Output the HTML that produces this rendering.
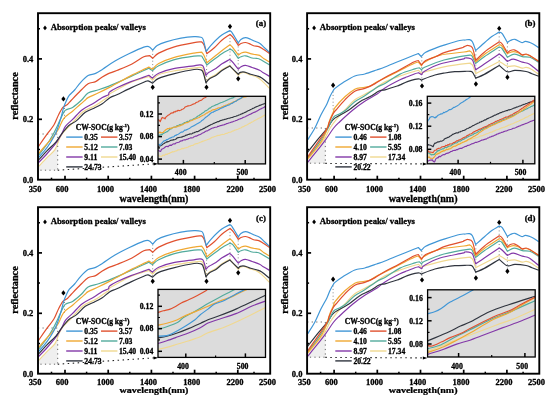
<!DOCTYPE html>
<html><head><meta charset="utf-8"><style>
html,body{margin:0;padding:0;background:#fff;width:550px;height:403px;overflow:hidden;}
svg{display:block;font-family:"Liberation Serif",serif;filter:blur(0.3px);}
text{stroke:#000;stroke-width:0.3px;}
</style></head><body>
<svg width="550" height="403" viewBox="0 0 550 403">
<rect width="550" height="403" fill="#fff"/>
<g transform="translate(0,0)">
<path d="M38.0,170.2 L38.00,166.90 L38.51,166.58 L39.01,166.04 L39.52,165.51 L40.02,164.98 L40.53,164.45 L41.03,163.91 L41.54,163.38 L42.04,162.85 L42.55,162.31 L43.05,161.78 L43.56,161.25 L44.06,160.71 L44.57,160.18 L45.07,159.65 L45.58,159.11 L46.08,158.58 L46.59,158.05 L47.09,157.51 L47.60,157.00 L48.10,156.50 L48.61,155.99 L49.11,155.49 L49.62,154.98 L50.12,154.48 L50.63,153.97 L51.13,153.47 L51.64,152.96 L52.14,152.46 L52.65,151.95 L53.15,151.45 L53.66,150.94 L54.16,150.44 L54.67,149.93 L55.17,149.17 L55.68,147.91 L56.18,146.65 L56.69,145.39 L57.19,144.14 L57.70,142.88 L57.7,170.2 Z" fill="#efefef"/>
<path d="M38,134 L57.7,134 L57.7,170.2 L38,170.2" fill="none" stroke="#666" stroke-width="1" stroke-dasharray="1.2,3.3"/>
<line x1="57.7" y1="170.2" x2="154" y2="163.9" stroke="#222" stroke-width="1.1" stroke-dasharray="1.5,3.5"/>
<path d="M158.20,163.70 L153.71,165.49 L153.51,162.50 Z" fill="#000"/>
<line x1="64.50" y1="108.00" x2="64.50" y2="119.00" stroke="#888" stroke-width="1" stroke-dasharray="1,2.4"/>
<line x1="152.70" y1="50.50" x2="152.70" y2="84.00" stroke="#888" stroke-width="1" stroke-dasharray="1,2.4"/>
<line x1="206.60" y1="52.00" x2="206.60" y2="84.00" stroke="#888" stroke-width="1" stroke-dasharray="1,2.4"/>
<line x1="230.00" y1="31.00" x2="230.00" y2="66.50" stroke="#888" stroke-width="1" stroke-dasharray="1,2.4"/>
<line x1="238.20" y1="43.00" x2="238.20" y2="76.00" stroke="#888" stroke-width="1" stroke-dasharray="1,2.4"/>
<path d="M38.20,166.90 C39.70,165.32 44.40,160.28 47.20,157.40 C50.00,154.52 52.95,152.77 55.00,149.60 C57.05,146.43 58.02,141.38 59.50,138.40 C60.98,135.42 62.05,133.93 63.90,131.70 C65.75,129.47 68.77,126.93 70.60,125.00 C72.43,123.07 72.70,122.40 74.90,120.10 C77.10,117.80 80.62,113.50 83.80,111.20 C86.98,108.90 90.98,107.97 94.00,106.30 C97.02,104.63 99.75,102.62 101.90,101.20 C104.05,99.78 105.77,98.57 106.90,97.80 C108.03,97.03 108.25,97.23 108.70,96.60 C109.15,95.97 108.25,95.13 109.60,94.00 C110.95,92.87 113.23,91.75 116.80,89.80 C120.37,87.85 126.50,84.27 131.00,82.30 C135.50,80.33 140.82,78.98 143.80,78.00 C146.78,77.02 147.20,76.93 148.90,76.40 C150.07,77.63 151.23,78.87 152.40,80.10 C154.50,78.30 155.17,76.22 158.70,74.70 C162.23,73.18 167.72,72.12 173.60,71.00 C179.48,69.88 189.43,68.60 194.00,68.00 C198.57,67.40 199.50,67.23 201.00,67.40 C202.50,67.57 202.40,67.73 203.00,69.00 C203.60,70.27 204.12,72.78 204.60,75.00 C205.08,77.22 205.47,79.87 205.90,82.30 C206.93,81.03 207.33,79.82 209.00,78.50 C210.67,77.18 213.73,75.85 215.90,74.40 C218.07,72.95 219.70,71.30 222.00,69.80 C224.30,68.30 227.13,66.87 229.70,65.40 C232.57,68.73 235.43,72.07 238.30,75.40 C239.03,74.67 239.43,73.67 240.50,73.20 C241.57,72.73 243.02,72.30 244.70,72.60 C246.38,72.90 248.62,74.28 250.60,75.00 C252.58,75.72 254.73,75.97 256.60,76.90 C258.47,77.83 259.65,78.68 261.80,80.60 C263.95,82.52 268.22,87.10 269.50,88.40" fill="none" stroke="#f0d890" stroke-width="1.2" stroke-linejoin="round"/>
<path d="M38.20,163.00 C39.70,161.42 44.22,156.85 47.20,153.50 C50.18,150.15 53.68,146.17 56.10,142.90 C58.52,139.63 60.12,136.70 61.70,133.90 C63.28,131.10 63.78,128.52 65.60,126.10 C67.42,123.68 69.82,122.13 72.60,119.40 C75.38,116.67 78.73,112.43 82.30,109.70 C85.87,106.97 90.73,105.00 94.00,103.00 C97.27,101.00 99.67,98.98 101.90,97.70 C104.13,96.42 106.28,95.83 107.40,95.30 C108.52,94.77 108.23,95.05 108.60,94.50 C108.97,93.95 108.23,93.12 109.60,92.00 C110.97,90.88 113.23,89.53 116.80,87.80 C120.37,86.07 126.50,83.38 131.00,81.60 C135.50,79.82 140.82,78.15 143.80,77.10 C146.78,76.05 147.20,75.90 148.90,75.30 C150.07,76.23 151.23,77.17 152.40,78.10 C154.50,76.47 155.17,74.77 158.70,73.20 C162.23,71.63 167.72,69.93 173.60,68.70 C179.48,67.47 189.60,66.43 194.00,65.80 C198.40,65.17 198.52,64.88 200.00,64.90 C201.48,64.92 202.15,65.05 202.90,65.90 C203.65,66.75 204.00,68.42 204.50,70.00 C205.00,71.58 205.43,73.60 205.90,75.40 C206.93,74.37 207.33,73.47 209.00,72.30 C210.67,71.13 213.73,69.82 215.90,68.40 C218.07,66.98 219.70,65.28 222.00,63.80 C224.30,62.32 227.13,60.93 229.70,59.50 C230.53,60.23 230.77,60.08 232.20,61.70 C233.63,63.32 236.27,66.70 238.30,69.20 C239.20,68.40 239.82,67.45 241.00,66.80 C242.18,66.15 243.55,65.18 245.40,65.30 C247.25,65.42 249.73,66.68 252.10,67.50 C254.47,68.32 257.73,69.32 259.60,70.20 C261.47,71.08 261.65,71.78 263.30,72.80 C264.95,73.82 268.47,75.72 269.50,76.30" fill="none" stroke="#8338a8" stroke-width="1.2" stroke-linejoin="round"/>
<path d="M38.20,160.50 C39.70,158.87 44.22,153.82 47.20,150.70 C50.18,147.58 53.68,144.60 56.10,141.80 C58.52,139.00 60.02,136.13 61.70,133.90 C63.38,131.67 64.90,129.88 66.20,128.40 C67.50,126.92 67.82,126.25 69.50,125.00 C71.18,123.75 73.67,123.02 76.30,120.90 C78.93,118.78 82.35,114.42 85.30,112.30 C88.25,110.18 91.23,109.58 94.00,108.20 C96.77,106.82 99.25,105.75 101.90,104.00 C104.55,102.25 107.42,99.23 109.90,97.70 C112.38,96.17 113.28,96.43 116.80,94.80 C120.32,93.17 126.50,89.98 131.00,87.90 C135.50,85.82 140.95,83.48 143.80,82.30 C146.65,81.12 146.67,80.65 148.10,80.80 C149.53,80.95 150.97,82.40 152.40,83.20 C154.50,81.60 155.17,79.95 158.70,78.40 C162.23,76.85 167.72,75.38 173.60,73.90 C179.48,72.42 189.43,70.17 194.00,69.50 C198.57,68.83 199.52,69.50 201.00,69.90 C202.48,70.30 202.32,70.72 202.90,71.90 C203.48,73.08 204.00,75.18 204.50,77.00 C205.00,78.82 205.43,80.87 205.90,82.80 C206.93,81.60 207.33,80.43 209.00,79.20 C210.67,77.97 213.73,76.83 215.90,75.40 C218.07,73.97 219.70,72.18 222.00,70.60 C224.30,69.02 227.13,67.47 229.70,65.90 C232.57,68.70 235.43,71.50 238.30,74.30 C238.93,73.67 239.13,72.77 240.20,72.40 C241.27,72.03 242.97,71.78 244.70,72.10 C246.43,72.42 248.62,73.68 250.60,74.30 C252.58,74.92 254.73,75.18 256.60,75.80 C258.47,76.42 259.65,76.58 261.80,78.00 C263.95,79.42 268.22,83.25 269.50,84.30" fill="none" stroke="#30353f" stroke-width="1.2" stroke-linejoin="round"/>
<path d="M38.20,155.70 C39.70,153.75 44.77,147.45 47.20,144.00 C49.63,140.55 51.03,138.17 52.80,135.00 C54.57,131.83 56.37,127.98 57.80,125.00 C59.23,122.02 60.17,119.53 61.40,117.10 C62.63,114.67 63.33,112.02 65.20,110.40 C67.07,108.78 69.87,109.13 72.60,107.40 C75.33,105.67 79.02,102.40 81.60,100.00 C84.18,97.60 85.27,94.70 88.10,93.00 C90.93,91.30 95.12,90.95 98.60,89.80 C102.08,88.65 106.10,87.22 109.00,86.10 C111.90,84.98 112.33,84.72 116.00,83.10 C119.67,81.48 126.37,78.50 131.00,76.40 C135.63,74.30 140.82,71.87 143.80,70.50 C146.78,69.13 147.20,68.97 148.90,68.20 C150.07,69.00 151.23,69.80 152.40,70.60 C154.50,69.00 155.17,67.60 158.70,65.80 C162.23,64.00 167.72,61.42 173.60,59.80 C179.48,58.18 189.32,56.73 194.00,56.10 C198.68,55.47 199.13,56.03 201.70,56.00 C203.43,58.97 205.17,61.93 206.90,64.90 C211.87,61.17 217.95,56.30 221.80,53.70 C225.65,51.10 227.27,50.77 230.00,49.30 C231.00,49.80 231.62,49.28 233.00,50.80 C234.38,52.32 236.53,55.87 238.30,58.40 C239.20,57.87 239.82,57.23 241.00,56.80 C242.18,56.37 243.55,55.60 245.40,55.80 C247.25,56.00 250.23,57.57 252.10,58.00 C253.97,58.43 255.23,58.15 256.60,58.40 C257.97,58.65 258.15,58.42 260.30,59.50 C262.45,60.58 267.97,64.00 269.50,64.90" fill="none" stroke="#52ab9c" stroke-width="1.2" stroke-linejoin="round"/>
<path d="M38.20,153.80 C39.32,152.53 42.47,148.95 44.90,146.20 C47.33,143.45 50.57,140.08 52.80,137.30 C55.03,134.52 56.48,132.62 58.30,129.50 C60.12,126.38 61.32,121.65 63.70,118.60 C66.08,115.55 69.87,113.55 72.60,111.20 C75.33,108.85 77.98,106.37 80.10,104.50 C82.22,102.63 83.97,101.15 85.30,100.00 C86.63,98.85 85.88,98.80 88.10,97.60 C90.32,96.40 95.12,94.47 98.60,92.80 C102.08,91.13 106.10,89.10 109.00,87.60 C111.90,86.10 112.33,85.80 116.00,83.80 C119.67,81.80 126.37,78.00 131.00,75.60 C135.63,73.20 140.82,70.82 143.80,69.40 C146.78,67.98 147.20,67.87 148.90,67.10 C150.07,67.80 151.23,68.50 152.40,69.20 C154.50,67.30 155.17,65.43 158.70,63.50 C162.23,61.57 167.72,59.33 173.60,57.60 C179.48,55.87 189.32,54.00 194.00,53.10 C198.68,52.20 199.13,52.50 201.70,52.20 C202.43,53.20 203.03,53.45 203.90,55.20 C204.77,56.95 205.90,60.20 206.90,62.70 C211.87,58.73 217.95,53.78 221.80,50.80 C225.65,47.82 227.27,46.80 230.00,44.80 C231.00,45.80 231.62,46.08 233.00,47.80 C234.38,49.52 236.53,52.67 238.30,55.10 C239.20,54.47 239.82,53.70 241.00,53.20 C242.18,52.70 243.67,51.98 245.40,52.10 C247.13,52.22 249.67,53.47 251.40,53.90 C253.13,54.33 254.43,54.45 255.80,54.70 C257.17,54.95 258.23,54.72 259.60,55.40 C260.97,56.08 262.35,57.70 264.00,58.80 C265.65,59.90 268.58,61.47 269.50,62.00" fill="none" stroke="#f0a832" stroke-width="1.2" stroke-linejoin="round"/>
<path d="M38.20,146.80 C39.70,144.65 44.58,137.53 47.20,133.90 C49.82,130.27 52.02,128.17 53.90,125.00 C55.78,121.83 57.00,117.83 58.50,114.90 C60.00,111.97 61.42,109.13 62.90,107.40 C64.38,105.67 65.97,105.73 67.40,104.50 C68.83,103.27 69.28,102.33 71.50,100.00 C73.72,97.67 77.93,93.20 80.70,90.50 C83.47,87.80 85.62,85.28 88.10,83.80 C90.58,82.32 93.30,82.70 95.60,81.60 C97.90,80.50 99.85,78.48 101.90,77.20 C103.95,75.92 105.42,75.02 107.90,73.90 C110.38,72.78 112.78,72.15 116.80,70.50 C120.82,68.85 127.50,66.28 132.00,64.00 C136.50,61.72 140.83,58.20 143.80,56.80 C146.77,55.40 147.80,56.00 149.80,55.60 C150.77,56.50 151.73,57.40 152.70,58.30 C154.70,56.57 155.22,54.97 158.70,53.10 C162.18,51.23 167.72,48.83 173.60,47.10 C179.48,45.37 189.32,43.58 194.00,42.70 C198.68,41.82 199.13,42.10 201.70,41.80 C202.43,42.80 203.03,42.82 203.90,44.80 C204.77,46.78 205.90,50.73 206.90,53.70 C209.37,51.73 211.82,50.03 214.30,47.80 C216.78,45.57 219.18,42.53 221.80,40.30 C224.42,38.07 227.27,36.37 230.00,34.40 C231.00,35.37 231.62,35.48 233.00,37.30 C234.38,39.12 236.53,42.63 238.30,45.30 C239.20,44.70 239.82,43.97 241.00,43.50 C242.18,43.03 244.05,42.48 245.40,42.50 C246.75,42.52 247.73,43.07 249.10,43.60 C250.47,44.13 251.98,45.20 253.60,45.70 C255.22,46.20 257.18,46.02 258.80,46.60 C260.42,47.18 261.52,48.05 263.30,49.20 C265.08,50.35 268.47,52.78 269.50,53.50" fill="none" stroke="#e0502e" stroke-width="1.2" stroke-linejoin="round"/>
<path d="M38.20,158.00 C39.70,156.22 44.58,150.85 47.20,147.30 C49.82,143.75 52.23,139.67 53.90,136.70 C55.57,133.73 56.07,132.52 57.20,129.50 C58.33,126.48 59.62,122.28 60.70,118.60 C61.78,114.92 62.70,110.50 63.70,107.40 C64.70,104.30 65.75,102.03 66.70,100.00 C67.65,97.97 68.08,96.87 69.40,95.20 C70.72,93.53 72.72,92.15 74.60,90.00 C76.48,87.85 78.45,84.70 80.70,82.30 C82.95,79.90 85.62,77.08 88.10,75.60 C90.58,74.12 93.12,74.52 95.60,73.40 C98.08,72.28 99.77,70.97 103.00,68.90 C106.23,66.83 110.68,63.52 115.00,61.00 C119.32,58.48 124.10,56.12 128.90,53.80 C133.70,51.48 140.45,48.28 143.80,47.10 C147.15,45.92 147.52,46.20 149.00,46.70 C150.48,47.20 151.47,48.97 152.70,50.10 C154.20,48.60 154.97,46.97 157.20,45.60 C159.43,44.23 162.13,43.13 166.10,41.90 C170.07,40.67 176.35,39.07 181.00,38.20 C185.65,37.33 190.68,36.85 194.00,36.70 C197.32,36.55 199.37,36.82 200.90,37.30 C202.43,37.78 202.32,37.23 203.20,39.60 C204.08,41.97 205.20,47.53 206.20,51.50 C207.93,49.27 208.80,47.53 211.40,44.80 C214.00,42.07 218.70,37.47 221.80,35.10 C224.90,32.73 227.27,32.10 230.00,30.60 C230.73,31.37 230.82,30.85 232.20,32.90 C233.58,34.95 236.27,39.57 238.30,42.90 C239.17,41.77 239.72,40.37 240.90,39.50 C242.08,38.63 243.78,37.75 245.40,37.70 C247.02,37.65 249.12,38.65 250.60,39.20 C252.08,39.75 252.80,40.33 254.30,41.00 C255.80,41.67 258.10,42.27 259.60,43.20 C261.10,44.13 261.65,45.07 263.30,46.60 C264.95,48.13 268.47,51.43 269.50,52.40" fill="none" stroke="#4096d6" stroke-width="1.2" stroke-linejoin="round"/>
<path d="M63.40,96.20 L65.50,98.90 L63.40,101.60 L61.30,98.90 Z" fill="#000"/>
<path d="M152.70,84.50 L154.80,87.20 L152.70,89.90 L150.60,87.20 Z" fill="#000"/>
<path d="M206.50,84.60 L208.60,87.30 L206.50,90.00 L204.40,87.30 Z" fill="#000"/>
<path d="M230.00,23.80 L232.10,26.50 L230.00,29.20 L227.90,26.50 Z" fill="#000"/>
<path d="M238.20,76.10 L240.30,78.80 L238.20,81.50 L236.10,78.80 Z" fill="#000"/>
<text x="75.70" y="129.9" font-family="Liberation Serif" font-weight="bold" font-size="7.6" fill="#000">CW-SOC(g kg<tspan dy="-2.6" font-size="5">-1</tspan><tspan dy="2.6">)</tspan></text>
<line x1="66.20" y1="137.1" x2="82.60" y2="137.1" stroke="#4096d6" stroke-width="1.4"/>
<text x="84.30" y="139.70" font-family="Liberation Serif" font-weight="bold" font-size="7.7" fill="#000">0.35</text>
<line x1="101.00" y1="137.1" x2="117.40" y2="137.1" stroke="#e0502e" stroke-width="1.4"/>
<text x="118.90" y="139.70" font-family="Liberation Serif" font-weight="bold" font-size="7.7" fill="#000">3.57</text>
<line x1="66.20" y1="147.0" x2="82.60" y2="147.0" stroke="#f0a832" stroke-width="1.4"/>
<text x="84.30" y="149.60" font-family="Liberation Serif" font-weight="bold" font-size="7.7" fill="#000">5.12</text>
<line x1="101.00" y1="147.0" x2="117.40" y2="147.0" stroke="#52ab9c" stroke-width="1.4"/>
<text x="118.90" y="149.60" font-family="Liberation Serif" font-weight="bold" font-size="7.7" fill="#000">7.03</text>
<line x1="66.20" y1="157.0" x2="82.60" y2="157.0" stroke="#8338a8" stroke-width="1.4"/>
<text x="84.30" y="159.60" font-family="Liberation Serif" font-weight="bold" font-size="7.7" fill="#000">9.11</text>
<line x1="101.00" y1="157.0" x2="117.40" y2="157.0" stroke="#f0d890" stroke-width="1.4"/>
<text x="118.90" y="159.60" font-family="Liberation Serif" font-weight="bold" font-size="7.7" fill="#000">15.40</text>
<line x1="66.20" y1="166.9" x2="82.60" y2="166.9" stroke="#30353f" stroke-width="1.4"/>
<text x="84.30" y="169.50" font-family="Liberation Serif" font-weight="bold" font-size="7.7" fill="#000">24.73</text>
<clipPath id="ca0"><rect x="158.0" y="96.3" width="107.50" height="67.60"/></clipPath>
<rect x="158.0" y="96.3" width="107.50" height="67.60" fill="#dcdcdc"/>
<g clip-path="url(#ca0)"><path d="M158.30,154.85 L158.84,155.72 L159.72,156.08 L161.30,156.43 L161.95,156.29 L162.65,155.36 L163.43,155.01 L164.26,155.64 L165.16,154.56 L166.12,154.12 L167.14,154.52 L168.23,153.48 L169.38,153.41 L170.60,152.58 L171.41,152.46 L172.26,151.67 L173.15,151.86 L174.08,151.78 L175.04,151.12 L176.02,151.01 L177.03,150.61 L178.06,149.73 L179.09,150.02 L180.14,149.53 L181.19,148.94 L182.23,148.38 L183.27,148.73 L184.30,148.06 L185.31,147.92 L186.30,147.70 L187.29,147.22 L188.30,147.02 L189.32,146.26 L190.36,146.18 L191.40,145.55 L192.44,145.52 L193.48,145.10 L194.51,144.18 L195.53,143.84 L196.53,143.53 L197.51,143.65 L198.46,142.96 L199.38,142.73 L200.26,142.20 L201.10,142.01 L201.90,141.63 L203.22,141.10 L204.45,140.76 L205.58,140.30 L206.64,140.05 L207.62,139.51 L208.54,139.26 L209.41,138.86 L210.22,138.59 L211.00,138.09 L212.31,137.24 L213.17,137.18 L214.09,136.83 L215.60,136.30 L216.35,135.93 L217.16,135.80 L218.03,135.37 L218.96,135.47 L219.93,135.14 L220.97,134.79 L222.04,134.44 L223.17,134.53 L224.34,134.28 L225.55,133.52 L226.80,133.43 L227.65,132.97 L228.55,132.54 L229.49,132.26 L230.47,132.09 L231.48,131.75 L232.51,131.01 L233.56,130.84 L234.62,130.19 L235.68,130.03 L236.74,129.44 L237.79,129.23 L238.82,128.83 L239.83,128.22 L240.81,127.99 L241.75,127.31 L242.65,126.83 L243.50,126.64 L244.63,125.90 L245.69,125.43 L246.70,124.99 L247.66,124.54 L248.59,123.87 L249.48,123.32 L250.35,123.10 L251.21,122.41 L252.07,122.13 L252.93,121.62 L253.81,120.95 L254.70,120.49 L255.73,119.96 L256.81,119.42 L257.92,118.82 L259.04,118.21 L260.16,117.64 L261.23,117.18 L262.25,116.51 L263.19,115.99 L264.03,115.64 L264.74,115.11 L265.30,114.84" fill="none" stroke="#f0d890" stroke-width="1.15" stroke-linejoin="round"/>
<path d="M158.30,150.04 L159.06,150.74 L160.20,151.44 L160.79,151.14 L161.41,149.46 L162.20,148.94 L163.30,148.39 L164.09,147.95 L164.99,147.24 L165.97,146.45 L167.03,146.39 L168.16,146.67 L169.35,145.32 L170.60,145.11 L171.42,145.45 L172.25,144.61 L173.09,144.03 L173.97,143.79 L174.87,143.99 L175.80,143.07 L176.77,142.77 L177.78,142.55 L178.84,142.31 L179.94,141.61 L181.10,140.84 L181.94,140.97 L182.82,140.23 L183.74,139.99 L184.68,139.77 L185.66,139.87 L186.66,139.24 L187.67,139.24 L188.69,138.53 L189.73,138.18 L190.76,137.78 L191.79,137.94 L192.81,137.70 L193.81,136.91 L194.80,136.57 L195.77,136.05 L196.70,136.10 L197.68,135.45 L198.65,134.90 L199.62,134.75 L200.59,134.23 L201.55,133.64 L202.50,132.95 L203.44,132.73 L204.37,132.17 L205.29,131.60 L206.20,130.95 L207.09,130.90 L207.97,130.41 L208.83,129.88 L209.67,129.64 L210.50,129.04 L211.57,128.48 L212.55,127.98 L213.48,127.91 L214.37,127.57 L215.24,127.26 L216.11,127.28 L217.00,126.95 L217.93,126.32 L218.93,126.40 L220.01,125.65 L221.20,125.57 L222.03,125.14 L222.89,125.06 L223.79,124.87 L224.71,124.39 L225.67,124.19 L226.65,123.57 L227.64,123.53 L228.66,122.97 L229.68,122.78 L230.72,122.40 L231.76,121.95 L232.80,121.87 L233.84,121.25 L234.87,120.95 L235.89,120.51 L236.91,120.35 L237.90,119.82 L238.84,119.34 L239.80,118.94 L240.77,118.60 L241.75,118.27 L242.73,117.65 L243.72,117.21 L244.71,116.99 L245.70,116.47 L246.68,115.87 L247.65,115.47 L248.61,114.94 L249.56,114.54 L250.48,114.13 L251.38,113.63 L252.26,113.19 L253.10,112.79 L253.92,112.41 L254.70,112.12 L255.94,111.62 L257.15,110.92 L258.32,110.25 L259.46,109.50 L260.53,108.99 L261.55,108.59 L262.49,108.00 L263.34,107.67 L264.10,107.28 L264.76,106.73 L265.30,106.46" fill="none" stroke="#8338a8" stroke-width="1.15" stroke-linejoin="round"/>
<path d="M158.30,147.14 L158.94,145.94 L159.83,146.04 L160.89,145.63 L162.07,144.89 L163.30,143.82 L164.17,143.52 L165.03,142.78 L165.94,142.54 L166.91,141.64 L167.99,141.82 L169.21,141.24 L170.60,140.37 L171.38,140.19 L172.22,140.25 L173.12,139.64 L174.06,139.82 L175.04,139.50 L176.05,139.02 L177.07,137.99 L178.12,137.63 L179.17,137.48 L180.21,137.20 L181.24,137.16 L182.26,136.92 L183.25,136.37 L184.20,136.11 L185.19,135.73 L186.17,134.99 L187.13,135.08 L188.08,134.55 L189.03,134.41 L189.97,133.82 L190.91,134.00 L191.85,133.88 L192.79,132.97 L193.75,132.99 L194.72,132.26 L195.70,132.11 L196.70,131.58 L197.59,131.65 L198.50,131.15 L199.43,130.82 L200.37,129.94 L201.32,129.77 L202.28,129.28 L203.23,128.67 L204.19,128.42 L205.14,127.75 L206.08,127.07 L207.01,126.84 L207.92,126.24 L208.81,125.65 L209.67,125.46 L210.50,124.76 L211.57,124.48 L212.55,124.08 L213.48,123.36 L214.37,123.29 L215.24,122.62 L216.11,122.52 L217.00,122.00 L217.93,121.47 L218.93,121.56 L220.01,120.71 L221.20,120.34 L222.03,120.23 L222.89,119.84 L223.79,119.70 L224.71,119.41 L225.67,119.19 L226.65,118.91 L227.64,118.53 L228.66,118.23 L229.68,118.16 L230.72,117.76 L231.76,117.51 L232.80,117.37 L233.84,116.69 L234.87,116.47 L235.89,116.25 L236.91,115.70 L237.90,115.60 L238.84,115.09 L239.80,114.66 L240.77,114.19 L241.75,114.05 L242.73,113.25 L243.72,113.07 L244.71,112.55 L245.70,112.14 L246.68,111.58 L247.65,110.98 L248.61,110.57 L249.56,110.23 L250.48,109.46 L251.38,109.30 L252.26,108.81 L253.10,108.24 L253.92,108.12 L254.70,107.53 L255.94,106.89 L257.15,106.45 L258.32,106.03 L259.46,105.40 L260.53,105.15 L261.55,104.69 L262.49,104.28 L263.34,104.07 L264.10,103.72 L264.76,103.57 L265.30,103.32" fill="none" stroke="#30353f" stroke-width="1.15" stroke-linejoin="round"/>
<path d="M158.30,136.55 L159.04,135.12 L160.11,135.09 L161.30,134.38 L162.20,134.57 L163.14,133.48 L164.19,133.09 L165.40,132.59 L166.20,131.85 L167.10,131.81 L168.06,131.06 L169.03,130.17 L169.99,128.76 L170.89,129.12 L171.70,128.15 L172.75,127.64 L173.54,127.28 L174.46,126.95 L175.90,126.81 L176.61,125.90 L177.41,125.47 L178.29,125.91 L179.23,124.89 L180.21,124.52 L181.22,124.26 L182.26,124.24 L183.30,123.38 L184.33,122.66 L185.33,122.44 L186.30,121.99 L187.23,121.41 L188.14,121.67 L189.04,121.14 L189.94,120.29 L190.84,119.95 L191.74,120.04 L192.67,119.38 L193.62,118.70 L194.60,118.26 L195.63,117.95 L196.70,116.83 L197.47,116.61 L198.28,115.69 L199.12,115.44 L199.98,114.70 L200.87,114.16 L201.76,113.56 L202.67,112.95 L203.58,112.58 L204.49,111.62 L205.40,110.78 L206.30,110.63 L207.19,110.06 L208.06,109.43 L208.90,108.58 L209.72,108.09 L210.50,107.84 L211.57,106.86 L212.58,106.30 L213.54,106.04 L214.46,105.44 L215.36,105.14 L216.25,104.58 L217.16,104.58 L218.09,103.95 L219.07,103.46 L220.10,102.99 L221.20,102.49 L222.09,102.34 L223.05,101.93 L224.09,101.48 L225.17,101.08 L226.29,100.46 L227.42,99.89 L228.56,99.43 L229.68,98.84 L230.76,98.49 L231.80,98.11 L232.77,97.87 L233.67,97.38 L234.46,96.85 L235.15,96.75 L235.70,96.44" fill="none" stroke="#52ab9c" stroke-width="1.15" stroke-linejoin="round"/>
<path d="M158.30,132.57 L158.98,132.86 L159.93,131.94 L161.04,133.01 L162.20,132.55 L163.30,132.40 L164.14,131.09 L164.97,130.48 L165.81,129.72 L166.67,129.28 L167.60,128.53 L168.60,128.81 L169.56,128.16 L170.60,128.39 L171.70,128.14 L172.81,127.55 L173.91,127.20 L174.95,127.18 L175.90,126.66 L176.99,126.89 L177.88,126.13 L178.75,125.71 L179.76,125.91 L181.10,124.95 L181.85,125.07 L182.67,124.76 L183.56,124.13 L184.50,123.41 L185.48,122.94 L186.48,122.61 L187.50,122.57 L188.52,121.97 L189.54,121.39 L190.54,120.76 L191.50,120.59 L192.45,120.21 L193.41,119.58 L194.37,119.29 L195.34,118.90 L196.30,118.56 L197.26,118.19 L198.21,117.80 L199.16,117.55 L200.09,116.76 L201.00,116.20 L201.90,115.88 L202.86,115.32 L203.79,115.01 L204.69,114.42 L205.58,113.78 L206.46,113.11 L207.34,112.94 L208.23,112.33 L209.13,111.82 L210.05,111.37 L211.00,110.99 L211.97,110.13 L212.96,109.82 L213.95,109.59 L214.96,109.35 L215.97,108.91 L217.00,108.57 L218.04,108.13 L219.08,107.74 L220.14,107.67 L221.20,107.33 L222.18,106.72 L223.19,106.32 L224.22,105.76 L225.26,105.57 L226.30,104.98 L227.35,104.75 L228.38,104.17 L229.40,103.84 L230.40,103.58 L231.37,102.93 L232.30,102.61 L233.30,102.06 L234.27,101.65 L235.23,101.31 L236.16,100.66 L237.08,100.35 L237.97,99.66 L238.84,99.22 L239.68,98.87 L240.50,98.43 L241.30,98.16 L242.63,97.57 L243.95,97.11 L245.21,96.99 L246.35,96.65 L247.30,96.55 L248.00,96.53" fill="none" stroke="#f0a832" stroke-width="1.15" stroke-linejoin="round"/>
<path d="M158.30,119.46 L159.12,120.26 L160.20,121.72 L160.71,120.58 L161.24,119.13 L161.77,118.02 L162.30,117.43 L163.16,118.02 L164.40,118.17 L165.07,118.79 L165.86,117.16 L166.74,116.39 L167.67,115.57 L168.63,115.01 L169.60,114.58 L170.44,113.51 L171.32,113.06 L172.23,112.91 L173.15,112.86 L174.08,111.65 L175.00,112.07 L175.90,111.06 L176.96,111.25 L178.05,110.29 L179.13,110.59 L180.19,110.33 L181.18,109.97 L182.10,109.32 L183.27,108.93 L184.26,108.10 L185.23,106.81 L186.30,106.60 L187.24,106.15 L188.21,105.90 L189.22,105.74 L190.31,105.43 L191.50,104.92 L192.31,104.40 L193.15,104.22 L194.04,103.73 L194.96,103.65 L195.90,102.62 L196.86,102.20 L197.83,101.97 L198.80,101.14 L199.72,100.74 L200.74,100.42 L201.80,99.94 L202.88,98.92 L203.93,98.08 L204.91,97.73 L205.79,97.12 L206.54,96.65 L207.10,96.47" fill="none" stroke="#e0502e" stroke-width="1.15" stroke-linejoin="round"/>
<path d="M158.30,144.30 L159.06,144.30 L160.20,145.17 L160.79,144.90 L161.41,143.31 L162.20,142.94 L163.30,141.50 L163.99,140.88 L164.75,140.69 L165.59,140.73 L166.49,139.61 L167.44,139.74 L168.45,138.92 L169.51,138.21 L170.60,137.93 L171.43,137.44 L172.32,137.04 L173.24,136.96 L174.19,136.47 L175.16,135.27 L176.15,135.44 L177.15,134.54 L178.16,134.30 L179.15,133.63 L180.14,132.84 L181.10,132.09 L182.05,132.16 L183.00,131.72 L183.94,130.93 L184.89,130.04 L185.83,130.13 L186.78,129.60 L187.72,129.20 L188.67,128.78 L189.61,128.28 L190.55,127.59 L191.50,126.82 L192.37,126.44 L193.25,125.93 L194.14,125.61 L195.03,125.01 L195.92,124.64 L196.81,123.92 L197.69,123.45 L198.57,123.16 L199.43,122.52 L200.27,122.06 L201.10,121.37 L201.90,120.47 L202.74,120.03 L203.54,119.32 L204.32,118.64 L205.07,117.90 L205.81,117.21 L206.55,116.75 L207.29,116.25 L208.05,115.64 L208.83,115.06 L209.65,114.23 L210.50,113.34 L211.39,112.88 L212.31,112.28 L213.26,112.18 L214.22,111.40 L215.20,111.12 L216.19,110.51 L217.19,110.10 L218.20,109.77 L219.20,109.21 L220.20,108.47 L221.20,108.26 L222.11,107.71 L223.03,107.58 L223.94,106.86 L224.87,106.45 L225.79,106.36 L226.72,105.74 L227.65,105.20 L228.58,105.10 L229.51,104.74 L230.44,104.12 L231.37,103.54 L232.30,103.35 L233.19,102.66 L234.13,102.09 L235.11,101.45 L236.11,101.20 L237.11,100.34 L238.10,99.69 L239.07,99.19 L240.00,98.74 L240.88,98.31 L241.68,97.51 L242.39,97.22 L243.01,96.72 L243.50,96.63" fill="none" stroke="#4096d6" stroke-width="1.15" stroke-linejoin="round"/></g>
<rect x="158.0" y="96.3" width="107.50" height="67.60" fill="none" stroke="#000" stroke-width="1.3"/>
<line x1="158.0" y1="159.1" x2="162.0" y2="159.1" stroke="#000" stroke-width="1.5"/>
<line x1="158.0" y1="136.6" x2="162.0" y2="136.6" stroke="#000" stroke-width="1.5"/>
<line x1="158.0" y1="114.0" x2="162.0" y2="114.0" stroke="#000" stroke-width="1.5"/>
<line x1="158.0" y1="147.8" x2="160.0" y2="147.8" stroke="#000" stroke-width="1.2"/>
<line x1="158.0" y1="125.3" x2="160.0" y2="125.3" stroke="#000" stroke-width="1.2"/>
<line x1="158.0" y1="102.9" x2="160.0" y2="102.9" stroke="#000" stroke-width="1.2"/>
<line x1="183.4" y1="163.9" x2="183.4" y2="159.9" stroke="#000" stroke-width="1.5"/>
<line x1="245.2" y1="163.9" x2="245.2" y2="159.9" stroke="#000" stroke-width="1.5"/>
<line x1="214.3" y1="163.9" x2="214.3" y2="161.9" stroke="#000" stroke-width="1.2"/>
<text x="153.3" y="162.00" font-family="Liberation Serif" font-weight="bold" font-size="7.8" text-anchor="end" fill="#000">0.04</text>
<text x="153.3" y="139.40" font-family="Liberation Serif" font-weight="bold" font-size="7.8" text-anchor="end" fill="#000">0.08</text>
<text x="153.3" y="116.90" font-family="Liberation Serif" font-weight="bold" font-size="7.8" text-anchor="end" fill="#000">0.12</text>
<text x="180.7" y="175.10" font-family="Liberation Serif" font-weight="bold" font-size="7.8" text-anchor="middle" fill="#000">400</text>
<text x="242.4" y="175.10" font-family="Liberation Serif" font-weight="bold" font-size="7.8" text-anchor="middle" fill="#000">500</text>
</g>
<g transform="translate(0,0)">
<rect x="38.0" y="13.2" width="232.20" height="166.50" fill="none" stroke="#000" stroke-width="1.9"/>
<line x1="65.00" y1="179.7" x2="65.00" y2="175.7" stroke="#000" stroke-width="1.7"/>
<line x1="108.20" y1="179.7" x2="108.20" y2="175.7" stroke="#000" stroke-width="1.7"/>
<line x1="151.40" y1="179.7" x2="151.40" y2="175.7" stroke="#000" stroke-width="1.7"/>
<line x1="194.60" y1="179.7" x2="194.60" y2="175.7" stroke="#000" stroke-width="1.7"/>
<line x1="237.80" y1="179.7" x2="237.80" y2="175.7" stroke="#000" stroke-width="1.7"/>
<line x1="51.50" y1="179.7" x2="51.50" y2="177.7" stroke="#000" stroke-width="1.5"/>
<line x1="86.60" y1="179.7" x2="86.60" y2="177.7" stroke="#000" stroke-width="1.5"/>
<line x1="129.80" y1="179.7" x2="129.80" y2="177.7" stroke="#000" stroke-width="1.5"/>
<line x1="173.00" y1="179.7" x2="173.00" y2="177.7" stroke="#000" stroke-width="1.5"/>
<line x1="216.20" y1="179.7" x2="216.20" y2="177.7" stroke="#000" stroke-width="1.5"/>
<line x1="254.00" y1="179.7" x2="254.00" y2="177.7" stroke="#000" stroke-width="1.5"/>
<line x1="38.0" y1="119.30" x2="42.0" y2="119.30" stroke="#000" stroke-width="1.7"/>
<line x1="38.0" y1="58.90" x2="42.0" y2="58.90" stroke="#000" stroke-width="1.7"/>
<line x1="38.0" y1="149.50" x2="40.0" y2="149.50" stroke="#000" stroke-width="1.5"/>
<line x1="38.0" y1="89.10" x2="40.0" y2="89.10" stroke="#000" stroke-width="1.5"/>
<line x1="38.0" y1="28.70" x2="40.0" y2="28.70" stroke="#000" stroke-width="1.5"/>
<text x="35.20" y="192.3" font-family="Liberation Serif" font-weight="bold" font-size="8.5" text-anchor="middle" fill="#000">350</text>
<text x="62.20" y="192.3" font-family="Liberation Serif" font-weight="bold" font-size="8.5" text-anchor="middle" fill="#000">600</text>
<text x="105.40" y="192.3" font-family="Liberation Serif" font-weight="bold" font-size="8.5" text-anchor="middle" fill="#000">1000</text>
<text x="148.60" y="192.3" font-family="Liberation Serif" font-weight="bold" font-size="8.5" text-anchor="middle" fill="#000">1400</text>
<text x="191.80" y="192.3" font-family="Liberation Serif" font-weight="bold" font-size="8.5" text-anchor="middle" fill="#000">1800</text>
<text x="235.00" y="192.3" font-family="Liberation Serif" font-weight="bold" font-size="8.5" text-anchor="middle" fill="#000">2200</text>
<text x="267.40" y="192.3" font-family="Liberation Serif" font-weight="bold" font-size="8.5" text-anchor="middle" fill="#000">2500</text>
<text x="33.3" y="182.70" font-family="Liberation Serif" font-weight="bold" font-size="8.5" text-anchor="end" fill="#000">0.0</text>
<text x="33.3" y="122.30" font-family="Liberation Serif" font-weight="bold" font-size="8.5" text-anchor="end" fill="#000">0.2</text>
<text x="33.3" y="61.90" font-family="Liberation Serif" font-weight="bold" font-size="8.5" text-anchor="end" fill="#000">0.4</text>
<text x="154" y="202.1" font-family="Liberation Serif" font-weight="bold" font-size="10" text-anchor="middle" fill="#000">wavelength(nm)</text>
<text transform="translate(18.4,96.0) rotate(-90)" x="0" y="0" font-family="Liberation Serif" font-weight="bold" font-size="10.2" text-anchor="middle" fill="#000">reflectance</text>
<path d="M45.00,25.50 L46.90,27.90 L45.00,30.30 L43.10,27.90 Z" fill="#000"/>
<text x="50.7" y="30.2" font-family="Liberation Serif" font-weight="bold" font-size="8.7" fill="#000">Absorption peaks/ valleys</text>
<text x="261" y="25.8" font-family="Liberation Serif" font-weight="bold" font-size="8.9" text-anchor="middle" fill="#000">(a)</text>
</g>
<g transform="translate(0,0)">
<path d="M307.2,163.2 L307.20,162.00 L307.66,162.00 L308.13,161.60 L308.59,161.04 L309.06,160.48 L309.52,159.91 L309.98,159.35 L310.45,158.79 L310.91,158.22 L311.38,157.66 L311.84,157.10 L312.31,156.53 L312.77,155.97 L313.23,155.41 L313.70,154.84 L314.16,154.28 L314.63,153.72 L315.09,153.15 L315.55,152.59 L316.02,152.03 L316.48,151.46 L316.95,150.88 L317.41,150.28 L317.87,149.69 L318.34,149.09 L318.80,148.49 L319.27,147.89 L319.73,147.29 L320.19,146.70 L320.66,146.10 L321.12,145.50 L321.59,144.90 L322.05,144.30 L322.52,143.70 L322.98,143.11 L323.44,142.51 L323.91,141.91 L324.37,141.31 L324.84,140.71 L325.30,140.12 L325.3,163.2 Z" fill="#efefef"/>
<path d="M307.2,128 L325.3,128 L325.3,163.2 L307.2,163.2" fill="none" stroke="#666" stroke-width="1" stroke-dasharray="1.2,3.3"/>
<line x1="325.3" y1="163.4" x2="423" y2="163.9" stroke="#222" stroke-width="1.1" stroke-dasharray="1.5,3.5"/>
<path d="M427.40,163.90 L422.80,165.40 L422.80,162.40 Z" fill="#000"/>
<line x1="333.10" y1="91.50" x2="333.10" y2="110.00" stroke="#888" stroke-width="1" stroke-dasharray="1,2.4"/>
<line x1="421.80" y1="57.00" x2="421.80" y2="83.50" stroke="#888" stroke-width="1" stroke-dasharray="1,2.4"/>
<line x1="475.80" y1="51.00" x2="475.80" y2="81.50" stroke="#888" stroke-width="1" stroke-dasharray="1,2.4"/>
<line x1="499.20" y1="33.00" x2="499.20" y2="65.00" stroke="#888" stroke-width="1" stroke-dasharray="1,2.4"/>
<line x1="507.40" y1="43.00" x2="507.40" y2="75.00" stroke="#888" stroke-width="1" stroke-dasharray="1,2.4"/>
<path d="M307.80,159.30 C310.48,156.02 320.18,144.82 323.90,139.60 C327.62,134.38 327.95,131.47 330.10,128.00 C332.25,124.53 334.33,121.80 336.80,118.80 C339.27,115.80 341.90,113.17 344.90,110.00 C347.90,106.83 351.48,102.42 354.80,99.80 C358.12,97.18 361.48,96.13 364.80,94.30 C368.12,92.47 371.33,90.87 374.70,88.80 C378.07,86.73 380.78,84.03 385.00,81.90 C389.22,79.77 395.02,77.78 400.00,76.00 C404.98,74.22 411.80,72.13 414.90,71.20 C418.00,70.27 417.37,70.67 418.60,70.40 C419.60,71.37 420.60,72.33 421.60,73.30 C422.60,72.87 420.87,73.08 424.60,72.00 C428.33,70.92 436.77,68.23 444.00,66.80 C451.23,65.37 463.52,63.88 468.00,63.40 C472.48,62.92 470.07,63.47 470.90,63.90 C471.73,64.33 472.20,64.38 473.00,66.00 C473.80,67.62 474.80,71.07 475.70,73.60 C478.57,72.13 480.38,71.22 484.30,69.20 C488.22,67.18 494.23,64.07 499.20,61.50 C500.13,62.00 500.63,62.22 502.00,63.00 C503.37,63.78 505.25,65.72 507.40,66.20 C509.55,66.68 512.42,65.58 514.90,65.90 C517.38,66.22 520.43,67.85 522.30,68.10 C524.17,68.35 524.60,67.22 526.10,67.40 C527.60,67.58 529.20,68.05 531.30,69.20 C533.40,70.35 537.47,73.45 538.70,74.30" fill="none" stroke="#f0d890" stroke-width="1.2" stroke-linejoin="round"/>
<path d="M307.80,162.00 C309.28,160.20 313.72,154.93 316.70,151.20 C319.68,147.47 322.87,143.47 325.70,139.60 C328.53,135.73 331.35,130.98 333.70,128.00 C336.05,125.02 336.60,124.70 339.80,121.70 C343.00,118.70 348.73,113.40 352.90,110.00 C357.07,106.60 360.83,103.92 364.80,101.30 C368.77,98.68 373.33,96.53 376.70,94.30 C380.07,92.07 381.12,90.33 385.00,87.90 C388.88,85.47 396.27,81.55 400.00,79.70 C403.73,77.85 404.92,77.78 407.40,76.80 C409.88,75.82 413.03,74.48 414.90,73.80 C416.77,73.12 417.37,73.07 418.60,72.70 C419.60,73.37 420.60,74.03 421.60,74.70 C422.60,73.53 421.53,72.98 424.60,71.20 C427.67,69.42 433.70,66.00 440.00,64.00 C446.30,62.00 458.23,60.20 462.40,59.20 C466.57,58.20 463.58,58.08 465.00,58.00 C466.42,57.92 469.57,58.20 470.90,58.70 C472.23,59.20 472.20,59.13 473.00,61.00 C473.80,62.87 474.80,66.93 475.70,69.90 C478.57,67.90 480.38,66.55 484.30,63.90 C488.22,61.25 494.23,57.30 499.20,54.00 C500.13,54.67 500.63,54.77 502.00,56.00 C503.37,57.23 505.60,59.60 507.40,61.40 C509.40,60.67 510.92,59.07 513.40,59.20 C515.88,59.33 519.93,61.52 522.30,62.20 C524.67,62.88 525.98,62.68 527.60,63.30 C529.22,63.92 530.15,64.53 532.00,65.90 C533.85,67.27 537.58,70.57 538.70,71.50" fill="none" stroke="#8338a8" stroke-width="1.2" stroke-linejoin="round"/>
<path d="M307.80,152.10 C309.43,150.02 314.33,143.62 317.60,139.60 C320.87,135.58 324.85,131.30 327.40,128.00 C329.95,124.70 330.83,121.92 332.90,119.80 C334.97,117.68 337.13,116.93 339.80,115.30 C342.47,113.67 345.57,112.27 348.90,110.00 C352.23,107.73 356.33,103.90 359.80,101.70 C363.27,99.50 366.40,98.62 369.70,96.80 C373.00,94.98 377.05,91.97 379.60,90.80 C382.15,89.63 382.07,90.60 385.00,89.80 C387.93,89.00 394.70,86.82 397.20,86.00 C399.70,85.18 398.30,85.63 400.00,84.90 C401.70,84.17 404.92,82.52 407.40,81.60 C409.88,80.68 412.90,79.83 414.90,79.40 C416.90,78.97 418.28,78.85 419.40,79.00 C420.52,79.15 420.87,79.87 421.60,80.30 C422.33,79.87 421.58,79.88 423.80,79.00 C426.02,78.12 431.38,76.00 434.90,75.00 C438.42,74.00 441.58,73.55 444.90,73.00 C448.22,72.45 451.45,71.98 454.80,71.70 C458.15,71.42 462.32,71.35 465.00,71.30 C467.68,71.25 469.57,71.12 470.90,71.40 C472.23,71.68 472.20,71.88 473.00,73.00 C473.80,74.12 474.80,76.40 475.70,78.10 C478.57,76.87 480.38,76.52 484.30,74.40 C488.22,72.28 494.23,68.40 499.20,65.40 C501.93,67.53 504.78,70.98 507.40,71.80 C510.02,72.62 511.78,70.35 514.90,70.30 C518.02,70.25 523.25,70.93 526.10,71.50 C528.95,72.07 529.90,72.92 532.00,73.70 C534.10,74.48 537.58,75.78 538.70,76.20" fill="none" stroke="#30353f" stroke-width="1.2" stroke-linejoin="round"/>
<path d="M307.80,157.90 C309.58,155.52 315.23,148.33 318.50,143.60 C321.77,138.87 325.48,132.77 327.40,129.50 C329.32,126.23 328.93,126.12 330.00,124.00 C331.07,121.88 332.17,118.50 333.80,116.80 C335.43,115.10 337.78,114.93 339.80,113.80 C341.82,112.67 343.40,112.02 345.90,110.00 C348.40,107.98 351.65,104.07 354.80,101.70 C357.95,99.33 361.15,98.18 364.80,95.80 C368.45,93.42 373.33,89.47 376.70,87.40 C380.07,85.33 381.12,85.62 385.00,83.40 C388.88,81.18 395.02,76.52 400.00,74.10 C404.98,71.68 411.67,69.95 414.90,68.90 C418.13,67.85 417.90,68.17 419.40,67.80 C420.13,68.53 420.87,69.27 421.60,70.00 C422.60,69.07 420.87,68.87 424.60,67.20 C428.33,65.53 436.77,61.98 444.00,60.00 C451.23,58.02 463.33,55.97 468.00,55.30 C472.67,54.63 470.67,55.77 472.00,56.00 C473.23,58.47 474.47,60.93 475.70,63.40 C478.57,61.17 480.38,59.43 484.30,56.70 C488.22,53.97 494.23,50.23 499.20,47.00 C500.13,47.50 500.63,46.80 502.00,48.50 C503.37,50.20 505.60,54.30 507.40,57.20 C509.67,56.17 511.72,54.20 514.20,54.10 C516.68,54.00 519.70,56.07 522.30,56.60 C524.90,57.13 527.07,56.35 529.80,57.30 C532.53,58.25 537.22,61.47 538.70,62.30" fill="none" stroke="#52ab9c" stroke-width="1.2" stroke-linejoin="round"/>
<path d="M307.80,158.40 C309.73,156.08 316.50,148.57 319.40,144.50 C322.30,140.43 323.45,138.12 325.20,134.00 C326.95,129.88 328.53,123.50 329.90,119.80 C331.27,116.10 332.55,113.82 333.40,111.80 C334.25,109.78 333.08,110.20 335.00,107.70 C336.92,105.20 341.60,99.87 344.90,96.80 C348.20,93.73 352.32,90.78 354.80,89.30 C357.28,87.82 357.32,88.38 359.80,87.90 C362.28,87.42 366.88,87.40 369.70,86.40 C372.52,85.40 374.15,83.32 376.70,81.90 C379.25,80.48 381.30,79.72 385.00,77.90 C388.70,76.08 394.10,73.40 398.90,71.00 C403.70,68.60 410.57,65.00 413.80,63.50 C417.03,62.00 416.80,62.50 418.30,62.00 C419.37,63.27 420.43,64.53 421.50,65.80 C422.33,64.67 420.92,64.17 424.00,62.40 C427.08,60.63 433.33,56.93 440.00,55.20 C446.67,53.47 459.10,52.73 464.00,52.00 C468.90,51.27 467.60,51.20 469.40,50.80 C470.27,51.53 470.95,51.15 472.00,53.00 C473.05,54.85 474.47,58.93 475.70,61.90 C478.57,59.43 480.38,57.35 484.30,54.50 C488.22,51.65 494.23,48.03 499.20,44.80 C500.13,45.20 500.63,44.53 502.00,46.00 C503.37,47.47 505.60,51.07 507.40,53.60 C509.40,52.93 511.63,51.73 513.40,51.60 C515.17,51.47 516.52,52.23 518.00,52.80 C519.48,53.37 520.95,54.72 522.30,55.00 C523.65,55.28 524.85,54.37 526.10,54.50 C527.35,54.63 527.70,54.68 529.80,55.80 C531.90,56.92 537.22,60.30 538.70,61.20" fill="none" stroke="#f0a832" stroke-width="1.2" stroke-linejoin="round"/>
<path d="M307.80,156.60 C309.43,154.28 314.33,147.47 317.60,142.70 C320.87,137.93 325.50,131.28 327.40,128.00 C329.30,124.72 328.00,125.45 329.00,123.00 C330.00,120.55 332.23,115.47 333.40,113.30 C334.57,111.13 334.08,112.25 336.00,110.00 C337.92,107.75 341.77,102.92 344.90,99.80 C348.03,96.68 351.48,93.20 354.80,91.30 C358.12,89.40 361.48,89.63 364.80,88.40 C368.12,87.17 371.33,85.73 374.70,83.90 C378.07,82.07 380.97,79.68 385.00,77.40 C389.03,75.12 394.10,72.77 398.90,70.20 C403.70,67.63 410.57,63.62 413.80,62.00 C417.03,60.38 416.80,61.00 418.30,60.50 C419.37,62.00 420.43,63.50 421.50,65.00 C422.90,63.50 423.27,61.92 425.70,60.50 C428.13,59.08 432.90,57.85 436.10,56.50 C439.30,55.15 440.63,53.83 444.90,52.40 C449.17,50.97 458.57,48.82 461.70,47.90 C464.83,46.98 463.15,47.15 463.70,46.90 C464.25,46.65 464.28,46.63 465.00,46.40 C465.72,46.17 466.77,45.27 468.00,45.50 C469.23,45.73 471.12,45.32 472.40,47.80 C473.68,50.28 474.60,56.20 475.70,60.40 C478.57,57.67 480.38,55.30 484.30,52.20 C488.22,49.10 494.23,45.27 499.20,41.80 C500.20,42.53 500.83,42.17 502.20,44.00 C503.57,45.83 505.67,49.87 507.40,52.80 C508.40,52.03 509.27,51.00 510.40,50.50 C511.53,50.00 512.95,49.58 514.20,49.80 C515.45,50.02 516.55,50.92 517.90,51.80 C519.25,52.68 520.83,54.00 522.30,55.10 C523.57,54.73 524.85,53.92 526.10,54.00 C527.35,54.08 527.70,54.35 529.80,55.60 C531.90,56.85 537.22,60.52 538.70,61.50" fill="none" stroke="#e0502e" stroke-width="1.2" stroke-linejoin="round"/>
<path d="M307.80,139.60 C308.98,137.67 312.70,132.13 314.90,128.00 C317.10,123.87 319.00,118.82 321.00,114.80 C323.00,110.78 325.40,106.95 326.90,103.90 C328.40,100.85 328.93,98.73 330.00,96.50 C331.07,94.27 332.47,91.85 333.30,90.50 C334.13,89.15 333.35,89.73 335.00,88.40 C336.65,87.07 339.90,84.57 343.20,82.50 C346.50,80.43 351.20,77.42 354.80,76.00 C358.40,74.58 361.15,75.00 364.80,74.00 C368.45,73.00 373.33,71.17 376.70,70.00 C380.07,68.83 381.30,68.45 385.00,67.00 C388.70,65.55 394.10,63.25 398.90,61.30 C403.70,59.35 410.57,56.60 413.80,55.30 C417.03,54.00 416.80,54.10 418.30,53.50 C419.27,54.50 420.23,55.50 421.20,56.50 C422.70,55.10 423.22,53.73 425.70,52.30 C428.18,50.87 432.90,49.13 436.10,47.90 C439.30,46.67 440.97,46.13 444.90,44.90 C448.83,43.67 456.35,41.32 459.70,40.50 C463.05,39.68 463.38,40.15 465.00,40.00 C466.62,39.85 468.17,39.30 469.40,39.60 C470.63,39.90 471.35,39.98 472.40,41.80 C473.45,43.62 474.60,47.60 475.70,50.50 C477.60,48.83 478.72,47.82 481.40,45.50 C484.08,43.18 488.83,38.83 491.80,36.60 C494.77,34.37 496.73,33.60 499.20,32.10 C500.20,32.60 500.83,31.88 502.20,33.60 C503.57,35.32 505.67,39.47 507.40,42.40 C508.40,41.77 509.15,41.02 510.40,40.50 C511.65,39.98 513.03,38.97 514.90,39.30 C516.77,39.63 519.87,42.15 521.60,42.50 C523.33,42.85 523.93,41.40 525.30,41.40 C526.67,41.40 528.43,42.03 529.80,42.50 C531.17,42.97 532.02,43.35 533.50,44.20 C534.98,45.05 537.83,47.03 538.70,47.60" fill="none" stroke="#4096d6" stroke-width="1.2" stroke-linejoin="round"/>
<path d="M333.10,82.50 L335.20,85.20 L333.10,87.90 L331.00,85.20 Z" fill="#000"/>
<path d="M422.00,83.20 L424.10,85.90 L422.00,88.60 L419.90,85.90 Z" fill="#000"/>
<path d="M475.90,81.30 L478.00,84.00 L475.90,86.70 L473.80,84.00 Z" fill="#000"/>
<path d="M499.20,25.70 L501.30,28.40 L499.20,31.10 L497.10,28.40 Z" fill="#000"/>
<path d="M507.40,74.60 L509.50,77.30 L507.40,80.00 L505.30,77.30 Z" fill="#000"/>
<text x="344.80" y="129.9" font-family="Liberation Serif" font-weight="bold" font-size="7.6" fill="#000">CW-SOC(g kg<tspan dy="-2.6" font-size="5">-1</tspan><tspan dy="2.6">)</tspan></text>
<line x1="335.30" y1="137.1" x2="351.70" y2="137.1" stroke="#4096d6" stroke-width="1.4"/>
<text x="353.40" y="139.70" font-family="Liberation Serif" font-weight="bold" font-size="7.7" fill="#000">0.46</text>
<line x1="370.10" y1="137.1" x2="386.50" y2="137.1" stroke="#e0502e" stroke-width="1.4"/>
<text x="388.00" y="139.70" font-family="Liberation Serif" font-weight="bold" font-size="7.7" fill="#000">1.08</text>
<line x1="335.30" y1="147.0" x2="351.70" y2="147.0" stroke="#f0a832" stroke-width="1.4"/>
<text x="353.40" y="149.60" font-family="Liberation Serif" font-weight="bold" font-size="7.7" fill="#000">4.10</text>
<line x1="370.10" y1="147.0" x2="386.50" y2="147.0" stroke="#52ab9c" stroke-width="1.4"/>
<text x="388.00" y="149.60" font-family="Liberation Serif" font-weight="bold" font-size="7.7" fill="#000">5.95</text>
<line x1="335.30" y1="157.0" x2="351.70" y2="157.0" stroke="#8338a8" stroke-width="1.4"/>
<text x="353.40" y="159.60" font-family="Liberation Serif" font-weight="bold" font-size="7.7" fill="#000">8.97</text>
<line x1="370.10" y1="157.0" x2="386.50" y2="157.0" stroke="#f0d890" stroke-width="1.4"/>
<text x="388.00" y="159.60" font-family="Liberation Serif" font-weight="bold" font-size="7.7" fill="#000">17.34</text>
<line x1="335.30" y1="166.9" x2="351.70" y2="166.9" stroke="#30353f" stroke-width="1.4"/>
<text x="353.40" y="169.50" font-family="Liberation Serif" font-weight="bold" font-size="7.7" fill="#000">20.22</text>
<clipPath id="cb0"><rect x="427.3" y="96.3" width="107.50" height="67.50"/></clipPath>
<rect x="427.3" y="96.3" width="107.50" height="67.50" fill="#dcdcdc"/>
<g clip-path="url(#cb0)"><path d="M427.50,154.95 L428.08,155.22 L428.81,154.84 L429.66,154.96 L430.63,154.79 L431.68,153.87 L432.78,153.56 L433.93,154.25 L435.10,153.26 L436.26,152.89 L437.40,153.34 L438.27,152.44 L439.17,152.46 L440.09,151.68 L441.03,151.42 L441.99,150.49 L442.96,150.52 L443.93,150.27 L444.92,149.47 L445.90,149.20 L446.89,148.66 L447.87,147.66 L448.84,147.84 L449.80,147.28 L450.73,146.64 L451.60,146.04 L452.45,146.38 L453.27,145.71 L454.10,145.57 L454.93,145.36 L455.78,144.88 L456.67,144.69 L457.62,143.92 L458.63,143.84 L459.72,143.17 L460.91,143.08 L462.20,142.57 L462.96,141.75 L463.76,141.50 L464.61,141.26 L465.49,141.45 L466.41,140.79 L467.36,140.59 L468.33,140.05 L469.33,139.85 L470.34,139.43 L471.37,139.06 L472.41,138.86 L473.45,138.51 L474.50,138.34 L475.54,137.86 L476.58,137.65 L477.61,137.26 L478.62,136.98 L479.62,136.47 L480.59,135.87 L481.54,135.91 L482.46,135.64 L483.35,135.30 L484.19,134.82 L485.00,134.61 L486.22,133.91 L487.37,133.79 L488.47,133.25 L489.52,132.71 L490.52,132.22 L491.49,132.20 L492.43,131.89 L493.35,131.11 L494.26,131.07 L495.16,130.53 L496.05,130.05 L496.96,129.75 L497.88,129.58 L498.83,129.24 L499.80,128.51 L500.72,128.39 L501.62,127.81 L502.51,127.74 L503.40,127.25 L504.27,127.14 L505.15,126.85 L506.03,126.33 L506.92,126.19 L507.82,125.58 L508.73,125.13 L509.66,124.97 L510.61,124.37 L511.58,124.03 L512.59,123.69 L513.63,123.31 L514.70,122.67 L515.53,122.26 L516.41,122.16 L517.34,121.53 L518.31,121.30 L519.32,120.80 L520.35,120.12 L521.40,119.65 L522.47,119.15 L523.55,118.67 L524.62,118.13 L525.68,117.60 L526.73,117.11 L527.76,116.71 L528.75,116.08 L529.71,115.58 L530.63,115.22 L531.49,114.64 L532.30,114.26 L533.04,114.11 L533.71,113.64 L534.30,113.36 L534.80,112.95" fill="none" stroke="#f0d890" stroke-width="1.15" stroke-linejoin="round"/>
<path d="M427.50,161.44 L428.48,160.69 L429.87,160.18 L431.20,160.10 L432.28,159.91 L433.29,161.32 L434.30,161.97 L434.86,161.44 L435.27,160.20 L435.97,158.62 L437.40,157.70 L438.05,157.96 L438.80,156.61 L439.63,156.42 L440.53,156.64 L441.49,155.67 L442.50,154.98 L443.54,154.63 L444.61,154.74 L445.68,153.74 L446.75,153.38 L447.80,153.12 L448.82,152.86 L449.80,152.19 L450.75,151.47 L451.71,151.54 L452.66,150.75 L453.62,150.48 L454.57,150.24 L455.52,150.32 L456.48,149.69 L457.43,149.69 L458.38,148.98 L459.34,148.63 L460.29,148.24 L461.25,148.40 L462.20,148.15 L463.16,147.34 L464.13,146.98 L465.10,146.44 L466.08,146.47 L467.06,145.84 L468.04,145.33 L469.01,145.25 L469.98,144.82 L470.93,144.33 L471.88,143.77 L472.80,143.69 L473.71,143.28 L474.60,142.86 L475.60,142.33 L476.55,142.42 L477.46,142.06 L478.34,141.66 L479.21,141.53 L480.09,141.01 L480.98,140.58 L481.90,140.14 L482.87,140.05 L483.90,139.63 L485.00,139.17 L485.86,139.11 L486.75,138.67 L487.68,137.95 L488.63,137.93 L489.60,137.11 L490.60,137.00 L491.61,136.42 L492.63,136.18 L493.66,135.86 L494.70,135.24 L495.73,134.92 L496.76,134.19 L497.79,134.05 L498.80,133.42 L499.80,133.18 L500.78,132.77 L501.74,132.31 L502.69,132.26 L503.63,131.67 L504.57,131.42 L505.50,131.04 L506.44,130.96 L507.40,130.50 L508.36,130.08 L509.34,129.75 L510.35,129.47 L511.39,129.22 L512.45,128.66 L513.56,128.26 L514.70,128.06 L515.57,127.68 L516.49,127.17 L517.47,126.85 L518.50,126.37 L519.56,126.00 L520.65,125.60 L521.76,125.09 L522.88,124.62 L524.01,124.17 L525.13,123.74 L526.23,123.37 L527.32,123.03 L528.38,122.51 L529.40,122.02 L530.37,121.47 L531.29,121.15 L532.15,120.94 L532.94,120.54 L533.65,120.38 L534.27,120.15 L534.80,119.74" fill="none" stroke="#8338a8" stroke-width="1.15" stroke-linejoin="round"/>
<path d="M427.50,145.64 L428.33,144.62 L429.50,145.00 L430.60,145.23 L431.50,145.82 L432.34,146.29 L433.10,146.76 L433.50,145.80 L433.81,144.79 L434.90,143.05 L435.56,143.33 L436.35,142.87 L437.24,142.14 L438.23,141.87 L439.27,141.86 L440.36,141.14 L441.45,141.23 L442.54,140.77 L443.60,140.13 L444.46,138.96 L445.34,138.46 L446.25,138.15 L447.16,137.67 L448.09,137.43 L449.01,136.97 L449.94,136.19 L450.85,135.72 L451.76,135.15 L452.64,134.24 L453.50,134.22 L454.50,133.53 L455.44,133.34 L456.35,132.72 L457.25,132.94 L458.15,132.86 L459.07,131.95 L460.04,132.01 L461.08,131.23 L462.20,131.00 L463.04,130.49 L463.92,130.55 L464.85,130.01 L465.81,129.64 L466.79,128.70 L467.79,128.51 L468.80,127.98 L469.81,127.34 L470.81,127.07 L471.80,126.38 L472.77,125.68 L473.70,125.47 L474.60,124.89 L475.60,124.25 L476.55,124.02 L477.46,123.27 L478.34,123.08 L479.21,122.73 L480.09,122.02 L480.98,121.95 L481.90,121.23 L482.87,121.07 L483.90,120.44 L485.00,119.76 L485.80,119.87 L486.64,119.01 L487.50,118.64 L488.39,118.38 L489.30,117.81 L490.22,117.50 L491.17,117.02 L492.12,116.60 L493.08,116.13 L494.05,115.56 L495.02,115.07 L495.99,114.84 L496.96,114.29 L497.92,113.90 L498.86,113.66 L499.80,112.89 L500.78,112.62 L501.74,112.37 L502.69,111.81 L503.63,111.75 L504.57,111.29 L505.50,110.94 L506.44,110.57 L507.40,110.56 L508.36,109.89 L509.34,109.86 L510.35,109.48 L511.39,109.21 L512.45,108.77 L513.56,108.25 L514.70,107.92 L515.57,107.74 L516.49,107.08 L517.47,107.01 L518.50,106.57 L519.56,106.01 L520.65,105.87 L521.76,105.22 L522.88,104.70 L524.01,104.37 L525.13,104.04 L526.23,103.46 L527.32,103.24 L528.38,102.79 L529.40,102.38 L530.37,102.15 L531.29,101.76 L532.15,101.54 L532.94,101.22 L533.65,100.95 L534.27,100.73 L534.80,100.51" fill="none" stroke="#30353f" stroke-width="1.15" stroke-linejoin="round"/>
<path d="M427.50,153.35 L428.20,152.59 L429.20,153.57 L430.37,153.96 L431.59,154.97 L432.74,154.54 L433.70,154.64 L434.46,154.43 L434.94,153.55 L435.41,153.31 L436.14,152.34 L437.40,151.24 L438.07,150.18 L438.83,150.84 L439.67,150.01 L440.57,149.70 L441.54,149.27 L442.54,148.86 L443.58,148.88 L444.63,147.85 L445.70,147.34 L446.76,147.72 L447.81,146.63 L448.82,146.23 L449.80,145.95 L450.75,145.90 L451.71,145.01 L452.66,144.25 L453.62,143.99 L454.57,143.49 L455.52,142.84 L456.48,143.03 L457.43,142.42 L458.38,141.48 L459.34,141.07 L460.29,141.11 L461.25,140.42 L462.20,139.76 L463.16,139.38 L464.13,139.17 L465.10,138.18 L466.08,137.96 L467.06,137.07 L468.04,136.89 L469.01,136.26 L469.98,135.84 L470.93,135.40 L471.88,134.95 L472.80,134.75 L473.71,133.98 L474.60,133.32 L475.60,133.26 L476.55,132.80 L477.46,132.25 L478.34,131.45 L479.21,131.00 L480.09,130.73 L480.98,129.87 L481.90,129.36 L482.87,129.08 L483.90,128.41 L485.00,127.98 L485.80,127.44 L486.64,127.44 L487.50,126.81 L488.39,126.33 L489.30,125.90 L490.22,125.46 L491.17,125.28 L492.12,124.85 L493.08,124.42 L494.05,124.05 L495.02,123.48 L495.99,122.95 L496.96,122.54 L497.92,121.99 L498.86,121.66 L499.80,121.29 L500.72,121.04 L501.62,120.52 L502.51,119.92 L503.40,119.71 L504.27,119.24 L505.15,119.04 L506.03,118.66 L506.92,118.17 L507.82,117.80 L508.73,117.30 L509.66,116.83 L510.61,116.60 L511.58,116.14 L512.59,115.60 L513.63,115.26 L514.70,114.72 L515.53,114.28 L516.41,113.65 L517.34,113.52 L518.31,112.74 L519.32,112.30 L520.35,111.78 L521.40,111.29 L522.47,110.95 L523.55,110.39 L524.62,109.72 L525.68,109.23 L526.73,108.90 L527.76,108.26 L528.75,107.75 L529.71,107.47 L530.63,106.85 L531.49,106.37 L532.30,106.12 L533.04,105.83 L533.71,105.27 L534.30,105.18 L534.80,104.80" fill="none" stroke="#52ab9c" stroke-width="1.15" stroke-linejoin="round"/>
<path d="M427.50,156.86 L428.20,157.39 L429.20,156.81 L430.37,158.30 L431.59,158.27 L432.74,158.53 L433.70,157.52 L434.46,157.01 L434.94,156.17 L435.41,155.51 L436.14,154.41 L437.40,154.21 L438.07,153.49 L438.83,153.58 L439.67,153.12 L440.57,152.28 L441.54,151.68 L442.54,151.43 L443.58,150.69 L444.63,150.84 L445.70,149.97 L446.76,149.49 L447.81,149.72 L448.82,148.88 L449.80,148.89 L450.75,148.48 L451.71,147.79 L452.66,147.03 L453.62,146.54 L454.57,146.21 L455.52,146.18 L456.48,145.58 L457.43,144.99 L458.38,144.35 L459.34,144.17 L460.29,143.75 L461.25,143.06 L462.20,142.72 L463.09,142.31 L463.99,141.94 L464.89,141.52 L465.80,141.10 L466.71,140.80 L467.62,139.95 L468.52,139.34 L469.43,138.98 L470.32,138.43 L471.20,138.15 L472.08,137.58 L472.93,136.99 L473.78,136.36 L474.60,136.24 L475.52,135.59 L476.40,135.00 L477.24,134.46 L478.05,133.95 L478.85,132.91 L479.65,132.40 L480.46,131.95 L481.28,131.48 L482.14,130.78 L483.04,130.18 L483.99,129.49 L485.00,128.87 L485.80,128.74 L486.64,128.35 L487.50,127.68 L488.39,127.22 L489.30,126.62 L490.22,126.40 L491.17,125.78 L492.12,125.53 L493.08,124.94 L494.05,124.58 L495.02,124.32 L495.99,123.64 L496.96,123.31 L497.92,122.78 L498.86,122.42 L499.80,122.15 L500.72,121.58 L501.62,121.39 L502.51,120.79 L503.40,120.46 L504.27,120.19 L505.15,119.79 L506.03,119.51 L506.92,119.01 L507.82,118.54 L508.73,118.31 L509.66,117.76 L510.61,117.39 L511.58,117.05 L512.59,116.56 L513.63,116.07 L514.70,115.36 L515.45,114.86 L516.26,114.28 L517.10,113.79 L517.98,113.14 L518.89,112.46 L519.83,111.98 L520.79,111.35 L521.76,110.56 L522.74,110.02 L523.72,109.25 L524.71,108.47 L525.68,107.95 L526.64,106.98 L527.59,106.37 L528.51,105.72 L529.40,105.19 L530.25,104.42 L531.07,104.06 L531.84,103.22 L532.55,102.80 L533.21,102.33 L533.81,101.98 L534.34,101.45 L534.80,101.09" fill="none" stroke="#f0a832" stroke-width="1.15" stroke-linejoin="round"/>
<path d="M427.50,150.86 L428.18,150.81 L429.16,152.09 L430.28,152.09 L431.41,152.21 L432.40,152.44 L433.20,152.33 L433.76,151.59 L434.59,150.21 L436.20,150.25 L436.87,148.98 L437.64,148.67 L438.49,148.35 L439.41,148.23 L440.38,148.10 L441.41,147.15 L442.46,146.75 L443.54,146.62 L444.63,146.56 L445.72,145.37 L446.79,145.72 L447.83,144.69 L448.84,144.84 L449.80,143.86 L450.79,144.03 L451.77,143.67 L452.74,143.24 L453.70,142.57 L454.66,142.40 L455.60,141.86 L456.55,140.86 L457.49,140.81 L458.42,140.30 L459.36,139.88 L460.30,139.52 L461.25,139.06 L462.20,138.52 L463.09,137.90 L463.99,137.62 L464.89,137.05 L465.80,136.90 L466.71,135.85 L467.62,135.40 L468.52,135.15 L469.43,134.33 L470.32,133.94 L471.20,133.69 L472.08,133.36 L472.93,132.51 L473.78,131.86 L474.60,131.68 L475.60,131.11 L476.55,130.62 L477.46,130.34 L478.34,129.80 L479.21,129.37 L480.09,129.16 L480.98,128.66 L481.90,128.27 L482.87,127.71 L483.90,127.30 L485.00,126.86 L485.80,126.65 L486.64,126.17 L487.50,125.82 L488.39,125.34 L489.30,124.54 L490.22,124.23 L491.17,123.75 L492.12,123.39 L493.08,123.08 L494.05,122.59 L495.02,121.85 L495.99,121.38 L496.96,121.04 L497.92,120.47 L498.86,120.26 L499.80,119.67 L500.72,119.59 L501.62,119.06 L502.51,118.72 L503.40,118.24 L504.27,117.90 L505.15,117.42 L506.03,117.16 L506.92,117.03 L507.82,116.66 L508.73,116.18 L509.66,115.75 L510.61,115.10 L511.58,114.95 L512.59,114.40 L513.63,113.63 L514.70,113.14 L515.45,112.58 L516.26,112.31 L517.10,111.58 L517.98,111.23 L518.89,110.66 L519.83,109.80 L520.79,109.36 L521.76,108.48 L522.74,107.92 L523.72,107.21 L524.71,106.61 L525.68,106.02 L526.64,105.22 L527.59,104.68 L528.51,104.00 L529.40,103.48 L530.25,102.89 L531.07,102.18 L531.84,101.85 L532.55,101.09 L533.21,100.91 L533.81,100.33 L534.34,99.95 L534.80,99.82" fill="none" stroke="#e0502e" stroke-width="1.15" stroke-linejoin="round"/>
<path d="M427.50,121.80 L427.93,120.40 L428.53,119.95 L429.24,119.02 L430.02,117.19 L430.80,117.13 L431.82,116.51 L432.93,116.70 L434.07,117.37 L435.20,117.89 L435.93,116.92 L436.49,117.07 L437.15,116.14 L438.13,115.19 L439.70,114.53 L440.35,114.14 L441.06,113.85 L441.85,113.89 L442.69,113.51 L443.59,112.40 L444.53,112.68 L445.50,111.85 L446.50,111.69 L447.52,111.06 L448.56,110.29 L449.59,109.54 L450.63,109.60 L451.66,109.13 L452.67,108.28 L453.65,107.33 L454.60,107.36 L455.50,106.78 L456.43,106.30 L457.39,105.77 L458.37,105.14 L459.37,104.32 L460.37,103.41 L461.37,102.86 L462.36,102.18 L463.33,101.71 L464.27,100.98 L465.18,100.49 L466.05,99.70 L466.87,99.20 L467.63,98.92 L468.33,98.35 L468.95,98.02 L469.50,97.52 L471.53,96.02 L471.70,96.25" fill="none" stroke="#4096d6" stroke-width="1.15" stroke-linejoin="round"/></g>
<rect x="427.3" y="96.3" width="107.50" height="67.50" fill="none" stroke="#000" stroke-width="1.3"/>
<line x1="427.3" y1="149.3" x2="431.3" y2="149.3" stroke="#000" stroke-width="1.5"/>
<line x1="427.3" y1="126.2" x2="431.3" y2="126.2" stroke="#000" stroke-width="1.5"/>
<line x1="427.3" y1="103.1" x2="431.3" y2="103.1" stroke="#000" stroke-width="1.5"/>
<line x1="427.3" y1="137.8" x2="429.3" y2="137.8" stroke="#000" stroke-width="1.2"/>
<line x1="427.3" y1="114.6" x2="429.3" y2="114.6" stroke="#000" stroke-width="1.2"/>
<line x1="458.1" y1="163.8" x2="458.1" y2="159.8" stroke="#000" stroke-width="1.5"/>
<line x1="522.9" y1="163.8" x2="522.9" y2="159.8" stroke="#000" stroke-width="1.5"/>
<line x1="490.5" y1="163.8" x2="490.5" y2="161.8" stroke="#000" stroke-width="1.2"/>
<text x="422.5" y="152.10" font-family="Liberation Serif" font-weight="bold" font-size="7.8" text-anchor="end" fill="#000">0.08</text>
<text x="422.5" y="128.90" font-family="Liberation Serif" font-weight="bold" font-size="7.8" text-anchor="end" fill="#000">0.12</text>
<text x="422.5" y="105.80" font-family="Liberation Serif" font-weight="bold" font-size="7.8" text-anchor="end" fill="#000">0.16</text>
<text x="455.3" y="175.10" font-family="Liberation Serif" font-weight="bold" font-size="7.8" text-anchor="middle" fill="#000">400</text>
<text x="520.5" y="175.10" font-family="Liberation Serif" font-weight="bold" font-size="7.8" text-anchor="middle" fill="#000">500</text>
</g>
<g transform="translate(269.1,0)">
<rect x="38.0" y="13.2" width="232.20" height="166.50" fill="none" stroke="#000" stroke-width="1.9"/>
<line x1="65.00" y1="179.7" x2="65.00" y2="175.7" stroke="#000" stroke-width="1.7"/>
<line x1="108.20" y1="179.7" x2="108.20" y2="175.7" stroke="#000" stroke-width="1.7"/>
<line x1="151.40" y1="179.7" x2="151.40" y2="175.7" stroke="#000" stroke-width="1.7"/>
<line x1="194.60" y1="179.7" x2="194.60" y2="175.7" stroke="#000" stroke-width="1.7"/>
<line x1="237.80" y1="179.7" x2="237.80" y2="175.7" stroke="#000" stroke-width="1.7"/>
<line x1="51.50" y1="179.7" x2="51.50" y2="177.7" stroke="#000" stroke-width="1.5"/>
<line x1="86.60" y1="179.7" x2="86.60" y2="177.7" stroke="#000" stroke-width="1.5"/>
<line x1="129.80" y1="179.7" x2="129.80" y2="177.7" stroke="#000" stroke-width="1.5"/>
<line x1="173.00" y1="179.7" x2="173.00" y2="177.7" stroke="#000" stroke-width="1.5"/>
<line x1="216.20" y1="179.7" x2="216.20" y2="177.7" stroke="#000" stroke-width="1.5"/>
<line x1="254.00" y1="179.7" x2="254.00" y2="177.7" stroke="#000" stroke-width="1.5"/>
<line x1="38.0" y1="119.30" x2="42.0" y2="119.30" stroke="#000" stroke-width="1.7"/>
<line x1="38.0" y1="58.90" x2="42.0" y2="58.90" stroke="#000" stroke-width="1.7"/>
<line x1="38.0" y1="149.50" x2="40.0" y2="149.50" stroke="#000" stroke-width="1.5"/>
<line x1="38.0" y1="89.10" x2="40.0" y2="89.10" stroke="#000" stroke-width="1.5"/>
<line x1="38.0" y1="28.70" x2="40.0" y2="28.70" stroke="#000" stroke-width="1.5"/>
<text x="35.20" y="192.3" font-family="Liberation Serif" font-weight="bold" font-size="8.5" text-anchor="middle" fill="#000">350</text>
<text x="62.20" y="192.3" font-family="Liberation Serif" font-weight="bold" font-size="8.5" text-anchor="middle" fill="#000">600</text>
<text x="105.40" y="192.3" font-family="Liberation Serif" font-weight="bold" font-size="8.5" text-anchor="middle" fill="#000">1000</text>
<text x="148.60" y="192.3" font-family="Liberation Serif" font-weight="bold" font-size="8.5" text-anchor="middle" fill="#000">1400</text>
<text x="191.80" y="192.3" font-family="Liberation Serif" font-weight="bold" font-size="8.5" text-anchor="middle" fill="#000">1800</text>
<text x="235.00" y="192.3" font-family="Liberation Serif" font-weight="bold" font-size="8.5" text-anchor="middle" fill="#000">2200</text>
<text x="267.40" y="192.3" font-family="Liberation Serif" font-weight="bold" font-size="8.5" text-anchor="middle" fill="#000">2500</text>
<text x="33.3" y="182.70" font-family="Liberation Serif" font-weight="bold" font-size="8.5" text-anchor="end" fill="#000">0.0</text>
<text x="33.3" y="122.30" font-family="Liberation Serif" font-weight="bold" font-size="8.5" text-anchor="end" fill="#000">0.2</text>
<text x="33.3" y="61.90" font-family="Liberation Serif" font-weight="bold" font-size="8.5" text-anchor="end" fill="#000">0.4</text>
<text x="154" y="202.1" font-family="Liberation Serif" font-weight="bold" font-size="10" text-anchor="middle" fill="#000">wavelength(nm)</text>
<text transform="translate(18.4,96.0) rotate(-90)" x="0" y="0" font-family="Liberation Serif" font-weight="bold" font-size="10.2" text-anchor="middle" fill="#000">reflectance</text>
<path d="M45.00,25.50 L46.90,27.90 L45.00,30.30 L43.10,27.90 Z" fill="#000"/>
<text x="50.7" y="30.2" font-family="Liberation Serif" font-weight="bold" font-size="8.7" fill="#000">Absorption peaks/ valleys</text>
<text x="261" y="25.8" font-family="Liberation Serif" font-weight="bold" font-size="8.9" text-anchor="middle" fill="#000">(b)</text>
</g>
<g transform="translate(0,194)">
<path d="M38.0,170.2 L38.00,166.90 L38.51,166.58 L39.01,166.04 L39.52,165.51 L40.02,164.98 L40.53,164.45 L41.03,163.91 L41.54,163.38 L42.04,162.85 L42.55,162.31 L43.05,161.78 L43.56,161.25 L44.06,160.71 L44.57,160.18 L45.07,159.65 L45.58,159.11 L46.08,158.58 L46.59,158.05 L47.09,157.51 L47.60,157.00 L48.10,156.50 L48.61,155.99 L49.11,155.49 L49.62,154.98 L50.12,154.48 L50.63,153.97 L51.13,153.47 L51.64,152.96 L52.14,152.46 L52.65,151.95 L53.15,151.45 L53.66,150.94 L54.16,150.44 L54.67,149.93 L55.17,149.17 L55.68,147.91 L56.18,146.65 L56.69,145.39 L57.19,144.14 L57.70,142.88 L57.7,170.2 Z" fill="#efefef"/>
<path d="M38,134 L57.7,134 L57.7,170.2 L38,170.2" fill="none" stroke="#666" stroke-width="1" stroke-dasharray="1.2,3.3"/>
<line x1="57.7" y1="170.2" x2="154" y2="163.9" stroke="#222" stroke-width="1.1" stroke-dasharray="1.5,3.5"/>
<path d="M158.20,163.70 L153.71,165.49 L153.51,162.50 Z" fill="#000"/>
<line x1="64.50" y1="108.00" x2="64.50" y2="119.00" stroke="#888" stroke-width="1" stroke-dasharray="1,2.4"/>
<line x1="152.70" y1="50.50" x2="152.70" y2="84.00" stroke="#888" stroke-width="1" stroke-dasharray="1,2.4"/>
<line x1="206.60" y1="52.00" x2="206.60" y2="84.00" stroke="#888" stroke-width="1" stroke-dasharray="1,2.4"/>
<line x1="230.00" y1="31.00" x2="230.00" y2="66.50" stroke="#888" stroke-width="1" stroke-dasharray="1,2.4"/>
<line x1="238.20" y1="43.00" x2="238.20" y2="76.00" stroke="#888" stroke-width="1" stroke-dasharray="1,2.4"/>
<path d="M38.20,166.90 C39.70,165.32 44.40,160.28 47.20,157.40 C50.00,154.52 52.95,152.77 55.00,149.60 C57.05,146.43 58.02,141.38 59.50,138.40 C60.98,135.42 62.05,133.93 63.90,131.70 C65.75,129.47 68.77,126.93 70.60,125.00 C72.43,123.07 72.70,122.40 74.90,120.10 C77.10,117.80 80.62,113.50 83.80,111.20 C86.98,108.90 90.98,107.97 94.00,106.30 C97.02,104.63 99.75,102.62 101.90,101.20 C104.05,99.78 105.77,98.57 106.90,97.80 C108.03,97.03 108.25,97.23 108.70,96.60 C109.15,95.97 108.25,95.13 109.60,94.00 C110.95,92.87 113.23,91.75 116.80,89.80 C120.37,87.85 126.50,84.27 131.00,82.30 C135.50,80.33 140.82,78.98 143.80,78.00 C146.78,77.02 147.20,76.93 148.90,76.40 C150.07,77.63 151.23,78.87 152.40,80.10 C154.50,78.30 155.17,76.22 158.70,74.70 C162.23,73.18 167.72,72.12 173.60,71.00 C179.48,69.88 189.43,68.60 194.00,68.00 C198.57,67.40 199.50,67.23 201.00,67.40 C202.50,67.57 202.40,67.73 203.00,69.00 C203.60,70.27 204.12,72.78 204.60,75.00 C205.08,77.22 205.47,79.87 205.90,82.30 C206.93,81.03 207.33,79.82 209.00,78.50 C210.67,77.18 213.73,75.85 215.90,74.40 C218.07,72.95 219.70,71.30 222.00,69.80 C224.30,68.30 227.13,66.87 229.70,65.40 C232.57,68.73 235.43,72.07 238.30,75.40 C239.03,74.67 239.43,73.67 240.50,73.20 C241.57,72.73 243.02,72.30 244.70,72.60 C246.38,72.90 248.62,74.28 250.60,75.00 C252.58,75.72 254.73,75.97 256.60,76.90 C258.47,77.83 259.65,78.68 261.80,80.60 C263.95,82.52 268.22,87.10 269.50,88.40" fill="none" stroke="#f0d890" stroke-width="1.2" stroke-linejoin="round"/>
<path d="M38.20,163.00 C39.70,161.42 44.22,156.85 47.20,153.50 C50.18,150.15 53.68,146.17 56.10,142.90 C58.52,139.63 60.12,136.70 61.70,133.90 C63.28,131.10 63.78,128.52 65.60,126.10 C67.42,123.68 69.82,122.13 72.60,119.40 C75.38,116.67 78.73,112.43 82.30,109.70 C85.87,106.97 90.73,105.00 94.00,103.00 C97.27,101.00 99.67,98.98 101.90,97.70 C104.13,96.42 106.28,95.83 107.40,95.30 C108.52,94.77 108.23,95.05 108.60,94.50 C108.97,93.95 108.23,93.12 109.60,92.00 C110.97,90.88 113.23,89.53 116.80,87.80 C120.37,86.07 126.50,83.38 131.00,81.60 C135.50,79.82 140.82,78.15 143.80,77.10 C146.78,76.05 147.20,75.90 148.90,75.30 C150.07,76.23 151.23,77.17 152.40,78.10 C154.50,76.47 155.17,74.77 158.70,73.20 C162.23,71.63 167.72,69.93 173.60,68.70 C179.48,67.47 189.60,66.43 194.00,65.80 C198.40,65.17 198.52,64.88 200.00,64.90 C201.48,64.92 202.15,65.05 202.90,65.90 C203.65,66.75 204.00,68.42 204.50,70.00 C205.00,71.58 205.43,73.60 205.90,75.40 C206.93,74.37 207.33,73.47 209.00,72.30 C210.67,71.13 213.73,69.82 215.90,68.40 C218.07,66.98 219.70,65.28 222.00,63.80 C224.30,62.32 227.13,60.93 229.70,59.50 C230.53,60.23 230.77,60.08 232.20,61.70 C233.63,63.32 236.27,66.70 238.30,69.20 C239.20,68.40 239.82,67.45 241.00,66.80 C242.18,66.15 243.55,65.18 245.40,65.30 C247.25,65.42 249.73,66.68 252.10,67.50 C254.47,68.32 257.73,69.32 259.60,70.20 C261.47,71.08 261.65,71.78 263.30,72.80 C264.95,73.82 268.47,75.72 269.50,76.30" fill="none" stroke="#8338a8" stroke-width="1.2" stroke-linejoin="round"/>
<path d="M38.20,160.50 C39.70,158.87 44.22,153.82 47.20,150.70 C50.18,147.58 53.68,144.60 56.10,141.80 C58.52,139.00 60.02,136.13 61.70,133.90 C63.38,131.67 64.90,129.88 66.20,128.40 C67.50,126.92 67.82,126.25 69.50,125.00 C71.18,123.75 73.67,123.02 76.30,120.90 C78.93,118.78 82.35,114.42 85.30,112.30 C88.25,110.18 91.23,109.58 94.00,108.20 C96.77,106.82 99.25,105.75 101.90,104.00 C104.55,102.25 107.42,99.23 109.90,97.70 C112.38,96.17 113.28,96.43 116.80,94.80 C120.32,93.17 126.50,89.98 131.00,87.90 C135.50,85.82 140.95,83.48 143.80,82.30 C146.65,81.12 146.67,80.65 148.10,80.80 C149.53,80.95 150.97,82.40 152.40,83.20 C154.50,81.60 155.17,79.95 158.70,78.40 C162.23,76.85 167.72,75.38 173.60,73.90 C179.48,72.42 189.43,70.17 194.00,69.50 C198.57,68.83 199.52,69.50 201.00,69.90 C202.48,70.30 202.32,70.72 202.90,71.90 C203.48,73.08 204.00,75.18 204.50,77.00 C205.00,78.82 205.43,80.87 205.90,82.80 C206.93,81.60 207.33,80.43 209.00,79.20 C210.67,77.97 213.73,76.83 215.90,75.40 C218.07,73.97 219.70,72.18 222.00,70.60 C224.30,69.02 227.13,67.47 229.70,65.90 C232.57,68.70 235.43,71.50 238.30,74.30 C238.93,73.67 239.13,72.77 240.20,72.40 C241.27,72.03 242.97,71.78 244.70,72.10 C246.43,72.42 248.62,73.68 250.60,74.30 C252.58,74.92 254.73,75.18 256.60,75.80 C258.47,76.42 259.65,76.58 261.80,78.00 C263.95,79.42 268.22,83.25 269.50,84.30" fill="none" stroke="#30353f" stroke-width="1.2" stroke-linejoin="round"/>
<path d="M38.20,155.70 C39.70,153.75 44.77,147.45 47.20,144.00 C49.63,140.55 51.03,138.17 52.80,135.00 C54.57,131.83 56.37,127.98 57.80,125.00 C59.23,122.02 60.17,119.53 61.40,117.10 C62.63,114.67 63.33,112.02 65.20,110.40 C67.07,108.78 69.87,109.13 72.60,107.40 C75.33,105.67 79.02,102.40 81.60,100.00 C84.18,97.60 85.27,94.70 88.10,93.00 C90.93,91.30 95.12,90.95 98.60,89.80 C102.08,88.65 106.10,87.22 109.00,86.10 C111.90,84.98 112.33,84.72 116.00,83.10 C119.67,81.48 126.37,78.50 131.00,76.40 C135.63,74.30 140.82,71.87 143.80,70.50 C146.78,69.13 147.20,68.97 148.90,68.20 C150.07,69.00 151.23,69.80 152.40,70.60 C154.50,69.00 155.17,67.60 158.70,65.80 C162.23,64.00 167.72,61.42 173.60,59.80 C179.48,58.18 189.32,56.73 194.00,56.10 C198.68,55.47 199.13,56.03 201.70,56.00 C203.43,58.97 205.17,61.93 206.90,64.90 C211.87,61.17 217.95,56.30 221.80,53.70 C225.65,51.10 227.27,50.77 230.00,49.30 C231.00,49.80 231.62,49.28 233.00,50.80 C234.38,52.32 236.53,55.87 238.30,58.40 C239.20,57.87 239.82,57.23 241.00,56.80 C242.18,56.37 243.55,55.60 245.40,55.80 C247.25,56.00 250.23,57.57 252.10,58.00 C253.97,58.43 255.23,58.15 256.60,58.40 C257.97,58.65 258.15,58.42 260.30,59.50 C262.45,60.58 267.97,64.00 269.50,64.90" fill="none" stroke="#52ab9c" stroke-width="1.2" stroke-linejoin="round"/>
<path d="M38.20,153.80 C39.32,152.53 42.47,148.95 44.90,146.20 C47.33,143.45 50.57,140.08 52.80,137.30 C55.03,134.52 56.48,132.62 58.30,129.50 C60.12,126.38 61.32,121.65 63.70,118.60 C66.08,115.55 69.87,113.55 72.60,111.20 C75.33,108.85 77.98,106.37 80.10,104.50 C82.22,102.63 83.97,101.15 85.30,100.00 C86.63,98.85 85.88,98.80 88.10,97.60 C90.32,96.40 95.12,94.47 98.60,92.80 C102.08,91.13 106.10,89.10 109.00,87.60 C111.90,86.10 112.33,85.80 116.00,83.80 C119.67,81.80 126.37,78.00 131.00,75.60 C135.63,73.20 140.82,70.82 143.80,69.40 C146.78,67.98 147.20,67.87 148.90,67.10 C150.07,67.80 151.23,68.50 152.40,69.20 C154.50,67.30 155.17,65.43 158.70,63.50 C162.23,61.57 167.72,59.33 173.60,57.60 C179.48,55.87 189.32,54.00 194.00,53.10 C198.68,52.20 199.13,52.50 201.70,52.20 C202.43,53.20 203.03,53.45 203.90,55.20 C204.77,56.95 205.90,60.20 206.90,62.70 C211.87,58.73 217.95,53.78 221.80,50.80 C225.65,47.82 227.27,46.80 230.00,44.80 C231.00,45.80 231.62,46.08 233.00,47.80 C234.38,49.52 236.53,52.67 238.30,55.10 C239.20,54.47 239.82,53.70 241.00,53.20 C242.18,52.70 243.67,51.98 245.40,52.10 C247.13,52.22 249.67,53.47 251.40,53.90 C253.13,54.33 254.43,54.45 255.80,54.70 C257.17,54.95 258.23,54.72 259.60,55.40 C260.97,56.08 262.35,57.70 264.00,58.80 C265.65,59.90 268.58,61.47 269.50,62.00" fill="none" stroke="#f0a832" stroke-width="1.2" stroke-linejoin="round"/>
<path d="M38.20,146.80 C39.70,144.65 44.58,137.53 47.20,133.90 C49.82,130.27 52.02,128.17 53.90,125.00 C55.78,121.83 57.00,117.83 58.50,114.90 C60.00,111.97 61.42,109.13 62.90,107.40 C64.38,105.67 65.97,105.73 67.40,104.50 C68.83,103.27 69.28,102.33 71.50,100.00 C73.72,97.67 77.93,93.20 80.70,90.50 C83.47,87.80 85.62,85.28 88.10,83.80 C90.58,82.32 93.30,82.70 95.60,81.60 C97.90,80.50 99.85,78.48 101.90,77.20 C103.95,75.92 105.42,75.02 107.90,73.90 C110.38,72.78 112.78,72.15 116.80,70.50 C120.82,68.85 127.50,66.28 132.00,64.00 C136.50,61.72 140.83,58.20 143.80,56.80 C146.77,55.40 147.80,56.00 149.80,55.60 C150.77,56.50 151.73,57.40 152.70,58.30 C154.70,56.57 155.22,54.97 158.70,53.10 C162.18,51.23 167.72,48.83 173.60,47.10 C179.48,45.37 189.32,43.58 194.00,42.70 C198.68,41.82 199.13,42.10 201.70,41.80 C202.43,42.80 203.03,42.82 203.90,44.80 C204.77,46.78 205.90,50.73 206.90,53.70 C209.37,51.73 211.82,50.03 214.30,47.80 C216.78,45.57 219.18,42.53 221.80,40.30 C224.42,38.07 227.27,36.37 230.00,34.40 C231.00,35.37 231.62,35.48 233.00,37.30 C234.38,39.12 236.53,42.63 238.30,45.30 C239.20,44.70 239.82,43.97 241.00,43.50 C242.18,43.03 244.05,42.48 245.40,42.50 C246.75,42.52 247.73,43.07 249.10,43.60 C250.47,44.13 251.98,45.20 253.60,45.70 C255.22,46.20 257.18,46.02 258.80,46.60 C260.42,47.18 261.52,48.05 263.30,49.20 C265.08,50.35 268.47,52.78 269.50,53.50" fill="none" stroke="#e0502e" stroke-width="1.2" stroke-linejoin="round"/>
<path d="M38.20,158.00 C39.70,156.22 44.58,150.85 47.20,147.30 C49.82,143.75 52.23,139.67 53.90,136.70 C55.57,133.73 56.07,132.52 57.20,129.50 C58.33,126.48 59.62,122.28 60.70,118.60 C61.78,114.92 62.70,110.50 63.70,107.40 C64.70,104.30 65.75,102.03 66.70,100.00 C67.65,97.97 68.08,96.87 69.40,95.20 C70.72,93.53 72.72,92.15 74.60,90.00 C76.48,87.85 78.45,84.70 80.70,82.30 C82.95,79.90 85.62,77.08 88.10,75.60 C90.58,74.12 93.12,74.52 95.60,73.40 C98.08,72.28 99.77,70.97 103.00,68.90 C106.23,66.83 110.68,63.52 115.00,61.00 C119.32,58.48 124.10,56.12 128.90,53.80 C133.70,51.48 140.45,48.28 143.80,47.10 C147.15,45.92 147.52,46.20 149.00,46.70 C150.48,47.20 151.47,48.97 152.70,50.10 C154.20,48.60 154.97,46.97 157.20,45.60 C159.43,44.23 162.13,43.13 166.10,41.90 C170.07,40.67 176.35,39.07 181.00,38.20 C185.65,37.33 190.68,36.85 194.00,36.70 C197.32,36.55 199.37,36.82 200.90,37.30 C202.43,37.78 202.32,37.23 203.20,39.60 C204.08,41.97 205.20,47.53 206.20,51.50 C207.93,49.27 208.80,47.53 211.40,44.80 C214.00,42.07 218.70,37.47 221.80,35.10 C224.90,32.73 227.27,32.10 230.00,30.60 C230.73,31.37 230.82,30.85 232.20,32.90 C233.58,34.95 236.27,39.57 238.30,42.90 C239.17,41.77 239.72,40.37 240.90,39.50 C242.08,38.63 243.78,37.75 245.40,37.70 C247.02,37.65 249.12,38.65 250.60,39.20 C252.08,39.75 252.80,40.33 254.30,41.00 C255.80,41.67 258.10,42.27 259.60,43.20 C261.10,44.13 261.65,45.07 263.30,46.60 C264.95,48.13 268.47,51.43 269.50,52.40" fill="none" stroke="#4096d6" stroke-width="1.2" stroke-linejoin="round"/>
<path d="M63.40,96.20 L65.50,98.90 L63.40,101.60 L61.30,98.90 Z" fill="#000"/>
<path d="M152.70,84.50 L154.80,87.20 L152.70,89.90 L150.60,87.20 Z" fill="#000"/>
<path d="M206.50,84.60 L208.60,87.30 L206.50,90.00 L204.40,87.30 Z" fill="#000"/>
<path d="M230.00,23.80 L232.10,26.50 L230.00,29.20 L227.90,26.50 Z" fill="#000"/>
<path d="M238.20,76.10 L240.30,78.80 L238.20,81.50 L236.10,78.80 Z" fill="#000"/>
<text x="75.70" y="129.9" font-family="Liberation Serif" font-weight="bold" font-size="7.6" fill="#000">CW-SOC(g kg<tspan dy="-2.6" font-size="5">-1</tspan><tspan dy="2.6">)</tspan></text>
<line x1="66.20" y1="137.1" x2="82.60" y2="137.1" stroke="#4096d6" stroke-width="1.4"/>
<text x="84.30" y="139.70" font-family="Liberation Serif" font-weight="bold" font-size="7.7" fill="#000">0.35</text>
<line x1="101.00" y1="137.1" x2="117.40" y2="137.1" stroke="#e0502e" stroke-width="1.4"/>
<text x="118.90" y="139.70" font-family="Liberation Serif" font-weight="bold" font-size="7.7" fill="#000">3.57</text>
<line x1="66.20" y1="147.0" x2="82.60" y2="147.0" stroke="#f0a832" stroke-width="1.4"/>
<text x="84.30" y="149.60" font-family="Liberation Serif" font-weight="bold" font-size="7.7" fill="#000">5.12</text>
<line x1="101.00" y1="147.0" x2="117.40" y2="147.0" stroke="#52ab9c" stroke-width="1.4"/>
<text x="118.90" y="149.60" font-family="Liberation Serif" font-weight="bold" font-size="7.7" fill="#000">7.03</text>
<line x1="66.20" y1="157.0" x2="82.60" y2="157.0" stroke="#8338a8" stroke-width="1.4"/>
<text x="84.30" y="159.60" font-family="Liberation Serif" font-weight="bold" font-size="7.7" fill="#000">9.11</text>
<line x1="101.00" y1="157.0" x2="117.40" y2="157.0" stroke="#f0d890" stroke-width="1.4"/>
<text x="118.90" y="159.60" font-family="Liberation Serif" font-weight="bold" font-size="7.7" fill="#000">15.40</text>
<line x1="66.20" y1="166.9" x2="82.60" y2="166.9" stroke="#30353f" stroke-width="1.4"/>
<text x="84.30" y="169.50" font-family="Liberation Serif" font-weight="bold" font-size="7.7" fill="#000">24.73</text>
<clipPath id="ca194"><rect x="158.0" y="95.4" width="107.50" height="68.00"/></clipPath>
<rect x="158.0" y="95.4" width="107.50" height="68.00" fill="#dcdcdc"/>
<g clip-path="url(#ca194)"><path d="M158.00,155.30 C159.47,154.98 163.48,154.28 166.80,153.40 C170.12,152.52 174.18,151.12 177.90,150.00 C181.62,148.88 185.37,147.90 189.10,146.70 C192.83,145.50 197.15,144.12 200.30,142.80 C203.45,141.48 203.92,140.43 208.00,138.80 C212.08,137.17 219.03,135.30 224.80,133.00 C230.57,130.70 235.82,128.25 242.60,125.00 C249.38,121.75 261.68,115.42 265.50,113.50" fill="none" stroke="#f0d890" stroke-width="1.15" stroke-linejoin="round"/>
<path d="M158.00,149.50 C159.47,149.03 163.48,147.82 166.80,146.70 C170.12,145.58 174.18,144.12 177.90,142.80 C181.62,141.48 185.37,140.30 189.10,138.80 C192.83,137.30 197.15,135.42 200.30,133.80 C203.45,132.18 204.85,130.53 208.00,129.10 C211.15,127.67 214.55,126.78 219.20,125.20 C223.85,123.62 230.32,121.83 235.90,119.60 C241.48,117.37 247.77,113.88 252.70,111.80 C257.63,109.72 263.37,107.88 265.50,107.10" fill="none" stroke="#8338a8" stroke-width="1.15" stroke-linejoin="round"/>
<path d="M158.00,143.90 C159.47,143.62 163.48,143.05 166.80,142.20 C170.12,141.35 174.18,140.10 177.90,138.80 C181.62,137.50 185.37,135.97 189.10,134.40 C192.83,132.83 197.15,130.83 200.30,129.40 C203.45,127.97 204.85,127.07 208.00,125.80 C211.15,124.53 214.55,123.58 219.20,121.80 C223.85,120.02 230.32,117.52 235.90,115.10 C241.48,112.68 247.77,109.62 252.70,107.30 C257.63,104.98 263.37,102.22 265.50,101.20" fill="none" stroke="#30353f" stroke-width="1.15" stroke-linejoin="round"/>
<path d="M158.00,135.50 C159.47,135.03 163.48,133.92 166.80,132.70 C170.12,131.48 175.12,129.73 177.90,128.20 C180.68,126.67 180.70,125.30 183.50,123.50 C186.30,121.70 190.62,119.72 194.70,117.40 C198.78,115.08 203.92,111.93 208.00,109.60 C212.08,107.27 215.48,105.37 219.20,103.40 C222.92,101.43 227.70,99.13 230.30,97.80 C232.90,96.47 234.05,95.80 234.80,95.40" fill="none" stroke="#52ab9c" stroke-width="1.15" stroke-linejoin="round"/>
<path d="M158.00,131.20 C159.47,130.87 163.67,130.07 166.80,129.20 C169.93,128.33 174.02,127.13 176.80,126.00 C179.58,124.87 180.52,123.75 183.50,122.40 C186.48,121.05 190.62,119.58 194.70,117.90 C198.78,116.22 203.92,114.07 208.00,112.30 C212.08,110.53 215.48,108.78 219.20,107.30 C222.92,105.82 226.95,104.80 230.30,103.40 C233.65,102.00 236.50,100.23 239.30,98.90 C242.10,97.57 245.80,95.98 247.10,95.40" fill="none" stroke="#f0a832" stroke-width="1.15" stroke-linejoin="round"/>
<path d="M158.00,118.50 C158.90,118.22 161.38,117.37 163.40,116.80 C165.42,116.23 168.23,115.75 170.10,115.10 C171.97,114.45 172.73,113.92 174.60,112.90 C176.47,111.88 178.88,110.22 181.30,109.00 C183.72,107.78 186.50,106.82 189.10,105.60 C191.70,104.38 194.10,103.18 196.90,101.70 C199.70,100.22 204.05,97.82 205.90,96.70 C207.75,95.58 207.65,95.28 208.00,95.00" fill="none" stroke="#e0502e" stroke-width="1.15" stroke-linejoin="round"/>
<path d="M158.00,142.20 C159.47,142.10 164.03,142.25 166.80,141.60 C169.57,140.95 171.82,139.68 174.60,138.30 C177.38,136.92 180.15,135.35 183.50,133.30 C186.85,131.25 191.90,128.10 194.70,126.00 C197.50,123.90 198.08,122.52 200.30,120.70 C202.52,118.88 205.60,116.87 208.00,115.10 C210.40,113.33 211.90,111.58 214.70,110.10 C217.50,108.62 221.27,107.87 224.80,106.20 C228.33,104.53 232.55,101.90 235.90,100.10 C239.25,98.30 243.40,96.18 244.90,95.40" fill="none" stroke="#4096d6" stroke-width="1.15" stroke-linejoin="round"/></g>
<rect x="158.0" y="95.4" width="107.50" height="68.00" fill="none" stroke="#000" stroke-width="1.3"/>
<line x1="158.0" y1="157.3" x2="162.0" y2="157.3" stroke="#000" stroke-width="1.5"/>
<line x1="158.0" y1="134.6" x2="162.0" y2="134.6" stroke="#000" stroke-width="1.5"/>
<line x1="158.0" y1="112.3" x2="162.0" y2="112.3" stroke="#000" stroke-width="1.5"/>
<line x1="158.0" y1="145.9" x2="160.0" y2="145.9" stroke="#000" stroke-width="1.2"/>
<line x1="158.0" y1="123.5" x2="160.0" y2="123.5" stroke="#000" stroke-width="1.2"/>
<line x1="158.0" y1="101.2" x2="160.0" y2="101.2" stroke="#000" stroke-width="1.2"/>
<line x1="185.8" y1="163.4" x2="185.8" y2="159.4" stroke="#000" stroke-width="1.5"/>
<line x1="245.4" y1="163.4" x2="245.4" y2="159.4" stroke="#000" stroke-width="1.5"/>
<line x1="215.6" y1="163.4" x2="215.6" y2="161.4" stroke="#000" stroke-width="1.2"/>
<text x="153.3" y="160.00" font-family="Liberation Serif" font-weight="bold" font-size="7.8" text-anchor="end" fill="#000">0.04</text>
<text x="153.3" y="137.20" font-family="Liberation Serif" font-weight="bold" font-size="7.8" text-anchor="end" fill="#000">0.08</text>
<text x="153.3" y="115.00" font-family="Liberation Serif" font-weight="bold" font-size="7.8" text-anchor="end" fill="#000">0.12</text>
<text x="183.0" y="174.70" font-family="Liberation Serif" font-weight="bold" font-size="7.8" text-anchor="middle" fill="#000">400</text>
<text x="242.6" y="174.70" font-family="Liberation Serif" font-weight="bold" font-size="7.8" text-anchor="middle" fill="#000">500</text>
</g>
<g transform="translate(0,194)">
<rect x="38.0" y="13.2" width="232.20" height="166.50" fill="none" stroke="#000" stroke-width="1.9"/>
<line x1="65.00" y1="179.7" x2="65.00" y2="175.7" stroke="#000" stroke-width="1.7"/>
<line x1="108.20" y1="179.7" x2="108.20" y2="175.7" stroke="#000" stroke-width="1.7"/>
<line x1="151.40" y1="179.7" x2="151.40" y2="175.7" stroke="#000" stroke-width="1.7"/>
<line x1="194.60" y1="179.7" x2="194.60" y2="175.7" stroke="#000" stroke-width="1.7"/>
<line x1="237.80" y1="179.7" x2="237.80" y2="175.7" stroke="#000" stroke-width="1.7"/>
<line x1="51.50" y1="179.7" x2="51.50" y2="177.7" stroke="#000" stroke-width="1.5"/>
<line x1="86.60" y1="179.7" x2="86.60" y2="177.7" stroke="#000" stroke-width="1.5"/>
<line x1="129.80" y1="179.7" x2="129.80" y2="177.7" stroke="#000" stroke-width="1.5"/>
<line x1="173.00" y1="179.7" x2="173.00" y2="177.7" stroke="#000" stroke-width="1.5"/>
<line x1="216.20" y1="179.7" x2="216.20" y2="177.7" stroke="#000" stroke-width="1.5"/>
<line x1="254.00" y1="179.7" x2="254.00" y2="177.7" stroke="#000" stroke-width="1.5"/>
<line x1="38.0" y1="119.30" x2="42.0" y2="119.30" stroke="#000" stroke-width="1.7"/>
<line x1="38.0" y1="58.90" x2="42.0" y2="58.90" stroke="#000" stroke-width="1.7"/>
<line x1="38.0" y1="149.50" x2="40.0" y2="149.50" stroke="#000" stroke-width="1.5"/>
<line x1="38.0" y1="89.10" x2="40.0" y2="89.10" stroke="#000" stroke-width="1.5"/>
<line x1="38.0" y1="28.70" x2="40.0" y2="28.70" stroke="#000" stroke-width="1.5"/>
<text x="35.20" y="191.2" font-family="Liberation Serif" font-weight="bold" font-size="8.5" text-anchor="middle" fill="#000">350</text>
<text x="62.20" y="191.2" font-family="Liberation Serif" font-weight="bold" font-size="8.5" text-anchor="middle" fill="#000">600</text>
<text x="105.40" y="191.2" font-family="Liberation Serif" font-weight="bold" font-size="8.5" text-anchor="middle" fill="#000">1000</text>
<text x="148.60" y="191.2" font-family="Liberation Serif" font-weight="bold" font-size="8.5" text-anchor="middle" fill="#000">1400</text>
<text x="191.80" y="191.2" font-family="Liberation Serif" font-weight="bold" font-size="8.5" text-anchor="middle" fill="#000">1800</text>
<text x="235.00" y="191.2" font-family="Liberation Serif" font-weight="bold" font-size="8.5" text-anchor="middle" fill="#000">2200</text>
<text x="267.40" y="191.2" font-family="Liberation Serif" font-weight="bold" font-size="8.5" text-anchor="middle" fill="#000">2500</text>
<text x="33.3" y="182.70" font-family="Liberation Serif" font-weight="bold" font-size="8.5" text-anchor="end" fill="#000">0.0</text>
<text x="33.3" y="122.30" font-family="Liberation Serif" font-weight="bold" font-size="8.5" text-anchor="end" fill="#000">0.2</text>
<text x="33.3" y="61.90" font-family="Liberation Serif" font-weight="bold" font-size="8.5" text-anchor="end" fill="#000">0.4</text>
<text transform="translate(154,199.3) scale(1,0.72)" x="0" y="0" font-family="Liberation Serif" font-weight="bold" font-size="10" text-anchor="middle" fill="#000">wavelength(nm)</text>
<text transform="translate(18.4,96.0) rotate(-90)" x="0" y="0" font-family="Liberation Serif" font-weight="bold" font-size="10.2" text-anchor="middle" fill="#000">reflectance</text>
<path d="M45.00,25.50 L46.90,27.90 L45.00,30.30 L43.10,27.90 Z" fill="#000"/>
<text x="50.7" y="30.2" font-family="Liberation Serif" font-weight="bold" font-size="8.7" fill="#000">Absorption peaks/ valleys</text>
<text x="261" y="26.5" font-family="Liberation Serif" font-weight="bold" font-size="8.9" text-anchor="middle" fill="#000">(c)</text>
</g>
<g transform="translate(0,194)">
<path d="M307.2,163.2 L307.20,162.00 L307.66,162.00 L308.13,161.60 L308.59,161.04 L309.06,160.48 L309.52,159.91 L309.98,159.35 L310.45,158.79 L310.91,158.22 L311.38,157.66 L311.84,157.10 L312.31,156.53 L312.77,155.97 L313.23,155.41 L313.70,154.84 L314.16,154.28 L314.63,153.72 L315.09,153.15 L315.55,152.59 L316.02,152.03 L316.48,151.46 L316.95,150.88 L317.41,150.28 L317.87,149.69 L318.34,149.09 L318.80,148.49 L319.27,147.89 L319.73,147.29 L320.19,146.70 L320.66,146.10 L321.12,145.50 L321.59,144.90 L322.05,144.30 L322.52,143.70 L322.98,143.11 L323.44,142.51 L323.91,141.91 L324.37,141.31 L324.84,140.71 L325.30,140.12 L325.3,163.2 Z" fill="#efefef"/>
<path d="M307.2,128 L325.3,128 L325.3,163.2 L307.2,163.2" fill="none" stroke="#666" stroke-width="1" stroke-dasharray="1.2,3.3"/>
<line x1="325.3" y1="163.4" x2="423" y2="163.9" stroke="#222" stroke-width="1.1" stroke-dasharray="1.5,3.5"/>
<path d="M427.40,163.90 L422.80,165.40 L422.80,162.40 Z" fill="#000"/>
<line x1="333.10" y1="91.50" x2="333.10" y2="110.00" stroke="#888" stroke-width="1" stroke-dasharray="1,2.4"/>
<line x1="421.80" y1="57.00" x2="421.80" y2="83.50" stroke="#888" stroke-width="1" stroke-dasharray="1,2.4"/>
<line x1="475.80" y1="51.00" x2="475.80" y2="81.50" stroke="#888" stroke-width="1" stroke-dasharray="1,2.4"/>
<line x1="499.20" y1="33.00" x2="499.20" y2="65.00" stroke="#888" stroke-width="1" stroke-dasharray="1,2.4"/>
<line x1="507.40" y1="43.00" x2="507.40" y2="75.00" stroke="#888" stroke-width="1" stroke-dasharray="1,2.4"/>
<path d="M307.80,159.30 C310.48,156.02 320.18,144.82 323.90,139.60 C327.62,134.38 327.95,131.47 330.10,128.00 C332.25,124.53 334.33,121.80 336.80,118.80 C339.27,115.80 341.90,113.17 344.90,110.00 C347.90,106.83 351.48,102.42 354.80,99.80 C358.12,97.18 361.48,96.13 364.80,94.30 C368.12,92.47 371.33,90.87 374.70,88.80 C378.07,86.73 380.78,84.03 385.00,81.90 C389.22,79.77 395.02,77.78 400.00,76.00 C404.98,74.22 411.80,72.13 414.90,71.20 C418.00,70.27 417.37,70.67 418.60,70.40 C419.60,71.37 420.60,72.33 421.60,73.30 C422.60,72.87 420.87,73.08 424.60,72.00 C428.33,70.92 436.77,68.23 444.00,66.80 C451.23,65.37 463.52,63.88 468.00,63.40 C472.48,62.92 470.07,63.47 470.90,63.90 C471.73,64.33 472.20,64.38 473.00,66.00 C473.80,67.62 474.80,71.07 475.70,73.60 C478.57,72.13 480.38,71.22 484.30,69.20 C488.22,67.18 494.23,64.07 499.20,61.50 C500.13,62.00 500.63,62.22 502.00,63.00 C503.37,63.78 505.25,65.72 507.40,66.20 C509.55,66.68 512.42,65.58 514.90,65.90 C517.38,66.22 520.43,67.85 522.30,68.10 C524.17,68.35 524.60,67.22 526.10,67.40 C527.60,67.58 529.20,68.05 531.30,69.20 C533.40,70.35 537.47,73.45 538.70,74.30" fill="none" stroke="#f0d890" stroke-width="1.2" stroke-linejoin="round"/>
<path d="M307.80,162.00 C309.28,160.20 313.72,154.93 316.70,151.20 C319.68,147.47 322.87,143.47 325.70,139.60 C328.53,135.73 331.35,130.98 333.70,128.00 C336.05,125.02 336.60,124.70 339.80,121.70 C343.00,118.70 348.73,113.40 352.90,110.00 C357.07,106.60 360.83,103.92 364.80,101.30 C368.77,98.68 373.33,96.53 376.70,94.30 C380.07,92.07 381.12,90.33 385.00,87.90 C388.88,85.47 396.27,81.55 400.00,79.70 C403.73,77.85 404.92,77.78 407.40,76.80 C409.88,75.82 413.03,74.48 414.90,73.80 C416.77,73.12 417.37,73.07 418.60,72.70 C419.60,73.37 420.60,74.03 421.60,74.70 C422.60,73.53 421.53,72.98 424.60,71.20 C427.67,69.42 433.70,66.00 440.00,64.00 C446.30,62.00 458.23,60.20 462.40,59.20 C466.57,58.20 463.58,58.08 465.00,58.00 C466.42,57.92 469.57,58.20 470.90,58.70 C472.23,59.20 472.20,59.13 473.00,61.00 C473.80,62.87 474.80,66.93 475.70,69.90 C478.57,67.90 480.38,66.55 484.30,63.90 C488.22,61.25 494.23,57.30 499.20,54.00 C500.13,54.67 500.63,54.77 502.00,56.00 C503.37,57.23 505.60,59.60 507.40,61.40 C509.40,60.67 510.92,59.07 513.40,59.20 C515.88,59.33 519.93,61.52 522.30,62.20 C524.67,62.88 525.98,62.68 527.60,63.30 C529.22,63.92 530.15,64.53 532.00,65.90 C533.85,67.27 537.58,70.57 538.70,71.50" fill="none" stroke="#8338a8" stroke-width="1.2" stroke-linejoin="round"/>
<path d="M307.80,152.10 C309.43,150.02 314.33,143.62 317.60,139.60 C320.87,135.58 324.85,131.30 327.40,128.00 C329.95,124.70 330.83,121.92 332.90,119.80 C334.97,117.68 337.13,116.93 339.80,115.30 C342.47,113.67 345.57,112.27 348.90,110.00 C352.23,107.73 356.33,103.90 359.80,101.70 C363.27,99.50 366.40,98.62 369.70,96.80 C373.00,94.98 377.05,91.97 379.60,90.80 C382.15,89.63 382.07,90.60 385.00,89.80 C387.93,89.00 394.70,86.82 397.20,86.00 C399.70,85.18 398.30,85.63 400.00,84.90 C401.70,84.17 404.92,82.52 407.40,81.60 C409.88,80.68 412.90,79.83 414.90,79.40 C416.90,78.97 418.28,78.85 419.40,79.00 C420.52,79.15 420.87,79.87 421.60,80.30 C422.33,79.87 421.58,79.88 423.80,79.00 C426.02,78.12 431.38,76.00 434.90,75.00 C438.42,74.00 441.58,73.55 444.90,73.00 C448.22,72.45 451.45,71.98 454.80,71.70 C458.15,71.42 462.32,71.35 465.00,71.30 C467.68,71.25 469.57,71.12 470.90,71.40 C472.23,71.68 472.20,71.88 473.00,73.00 C473.80,74.12 474.80,76.40 475.70,78.10 C478.57,76.87 480.38,76.52 484.30,74.40 C488.22,72.28 494.23,68.40 499.20,65.40 C501.93,67.53 504.78,70.98 507.40,71.80 C510.02,72.62 511.78,70.35 514.90,70.30 C518.02,70.25 523.25,70.93 526.10,71.50 C528.95,72.07 529.90,72.92 532.00,73.70 C534.10,74.48 537.58,75.78 538.70,76.20" fill="none" stroke="#30353f" stroke-width="1.2" stroke-linejoin="round"/>
<path d="M307.80,157.90 C309.58,155.52 315.23,148.33 318.50,143.60 C321.77,138.87 325.48,132.77 327.40,129.50 C329.32,126.23 328.93,126.12 330.00,124.00 C331.07,121.88 332.17,118.50 333.80,116.80 C335.43,115.10 337.78,114.93 339.80,113.80 C341.82,112.67 343.40,112.02 345.90,110.00 C348.40,107.98 351.65,104.07 354.80,101.70 C357.95,99.33 361.15,98.18 364.80,95.80 C368.45,93.42 373.33,89.47 376.70,87.40 C380.07,85.33 381.12,85.62 385.00,83.40 C388.88,81.18 395.02,76.52 400.00,74.10 C404.98,71.68 411.67,69.95 414.90,68.90 C418.13,67.85 417.90,68.17 419.40,67.80 C420.13,68.53 420.87,69.27 421.60,70.00 C422.60,69.07 420.87,68.87 424.60,67.20 C428.33,65.53 436.77,61.98 444.00,60.00 C451.23,58.02 463.33,55.97 468.00,55.30 C472.67,54.63 470.67,55.77 472.00,56.00 C473.23,58.47 474.47,60.93 475.70,63.40 C478.57,61.17 480.38,59.43 484.30,56.70 C488.22,53.97 494.23,50.23 499.20,47.00 C500.13,47.50 500.63,46.80 502.00,48.50 C503.37,50.20 505.60,54.30 507.40,57.20 C509.67,56.17 511.72,54.20 514.20,54.10 C516.68,54.00 519.70,56.07 522.30,56.60 C524.90,57.13 527.07,56.35 529.80,57.30 C532.53,58.25 537.22,61.47 538.70,62.30" fill="none" stroke="#52ab9c" stroke-width="1.2" stroke-linejoin="round"/>
<path d="M307.80,158.40 C309.73,156.08 316.50,148.57 319.40,144.50 C322.30,140.43 323.45,138.12 325.20,134.00 C326.95,129.88 328.53,123.50 329.90,119.80 C331.27,116.10 332.55,113.82 333.40,111.80 C334.25,109.78 333.08,110.20 335.00,107.70 C336.92,105.20 341.60,99.87 344.90,96.80 C348.20,93.73 352.32,90.78 354.80,89.30 C357.28,87.82 357.32,88.38 359.80,87.90 C362.28,87.42 366.88,87.40 369.70,86.40 C372.52,85.40 374.15,83.32 376.70,81.90 C379.25,80.48 381.30,79.72 385.00,77.90 C388.70,76.08 394.10,73.40 398.90,71.00 C403.70,68.60 410.57,65.00 413.80,63.50 C417.03,62.00 416.80,62.50 418.30,62.00 C419.37,63.27 420.43,64.53 421.50,65.80 C422.33,64.67 420.92,64.17 424.00,62.40 C427.08,60.63 433.33,56.93 440.00,55.20 C446.67,53.47 459.10,52.73 464.00,52.00 C468.90,51.27 467.60,51.20 469.40,50.80 C470.27,51.53 470.95,51.15 472.00,53.00 C473.05,54.85 474.47,58.93 475.70,61.90 C478.57,59.43 480.38,57.35 484.30,54.50 C488.22,51.65 494.23,48.03 499.20,44.80 C500.13,45.20 500.63,44.53 502.00,46.00 C503.37,47.47 505.60,51.07 507.40,53.60 C509.40,52.93 511.63,51.73 513.40,51.60 C515.17,51.47 516.52,52.23 518.00,52.80 C519.48,53.37 520.95,54.72 522.30,55.00 C523.65,55.28 524.85,54.37 526.10,54.50 C527.35,54.63 527.70,54.68 529.80,55.80 C531.90,56.92 537.22,60.30 538.70,61.20" fill="none" stroke="#f0a832" stroke-width="1.2" stroke-linejoin="round"/>
<path d="M307.80,156.60 C309.43,154.28 314.33,147.47 317.60,142.70 C320.87,137.93 325.50,131.28 327.40,128.00 C329.30,124.72 328.00,125.45 329.00,123.00 C330.00,120.55 332.23,115.47 333.40,113.30 C334.57,111.13 334.08,112.25 336.00,110.00 C337.92,107.75 341.77,102.92 344.90,99.80 C348.03,96.68 351.48,93.20 354.80,91.30 C358.12,89.40 361.48,89.63 364.80,88.40 C368.12,87.17 371.33,85.73 374.70,83.90 C378.07,82.07 380.97,79.68 385.00,77.40 C389.03,75.12 394.10,72.77 398.90,70.20 C403.70,67.63 410.57,63.62 413.80,62.00 C417.03,60.38 416.80,61.00 418.30,60.50 C419.37,62.00 420.43,63.50 421.50,65.00 C422.90,63.50 423.27,61.92 425.70,60.50 C428.13,59.08 432.90,57.85 436.10,56.50 C439.30,55.15 440.63,53.83 444.90,52.40 C449.17,50.97 458.57,48.82 461.70,47.90 C464.83,46.98 463.15,47.15 463.70,46.90 C464.25,46.65 464.28,46.63 465.00,46.40 C465.72,46.17 466.77,45.27 468.00,45.50 C469.23,45.73 471.12,45.32 472.40,47.80 C473.68,50.28 474.60,56.20 475.70,60.40 C478.57,57.67 480.38,55.30 484.30,52.20 C488.22,49.10 494.23,45.27 499.20,41.80 C500.20,42.53 500.83,42.17 502.20,44.00 C503.57,45.83 505.67,49.87 507.40,52.80 C508.40,52.03 509.27,51.00 510.40,50.50 C511.53,50.00 512.95,49.58 514.20,49.80 C515.45,50.02 516.55,50.92 517.90,51.80 C519.25,52.68 520.83,54.00 522.30,55.10 C523.57,54.73 524.85,53.92 526.10,54.00 C527.35,54.08 527.70,54.35 529.80,55.60 C531.90,56.85 537.22,60.52 538.70,61.50" fill="none" stroke="#e0502e" stroke-width="1.2" stroke-linejoin="round"/>
<path d="M307.80,139.60 C308.98,137.67 312.70,132.13 314.90,128.00 C317.10,123.87 319.00,118.82 321.00,114.80 C323.00,110.78 325.40,106.95 326.90,103.90 C328.40,100.85 328.93,98.73 330.00,96.50 C331.07,94.27 332.47,91.85 333.30,90.50 C334.13,89.15 333.35,89.73 335.00,88.40 C336.65,87.07 339.90,84.57 343.20,82.50 C346.50,80.43 351.20,77.42 354.80,76.00 C358.40,74.58 361.15,75.00 364.80,74.00 C368.45,73.00 373.33,71.17 376.70,70.00 C380.07,68.83 381.30,68.45 385.00,67.00 C388.70,65.55 394.10,63.25 398.90,61.30 C403.70,59.35 410.57,56.60 413.80,55.30 C417.03,54.00 416.80,54.10 418.30,53.50 C419.27,54.50 420.23,55.50 421.20,56.50 C422.70,55.10 423.22,53.73 425.70,52.30 C428.18,50.87 432.90,49.13 436.10,47.90 C439.30,46.67 440.97,46.13 444.90,44.90 C448.83,43.67 456.35,41.32 459.70,40.50 C463.05,39.68 463.38,40.15 465.00,40.00 C466.62,39.85 468.17,39.30 469.40,39.60 C470.63,39.90 471.35,39.98 472.40,41.80 C473.45,43.62 474.60,47.60 475.70,50.50 C477.60,48.83 478.72,47.82 481.40,45.50 C484.08,43.18 488.83,38.83 491.80,36.60 C494.77,34.37 496.73,33.60 499.20,32.10 C500.20,32.60 500.83,31.88 502.20,33.60 C503.57,35.32 505.67,39.47 507.40,42.40 C508.40,41.77 509.15,41.02 510.40,40.50 C511.65,39.98 513.03,38.97 514.90,39.30 C516.77,39.63 519.87,42.15 521.60,42.50 C523.33,42.85 523.93,41.40 525.30,41.40 C526.67,41.40 528.43,42.03 529.80,42.50 C531.17,42.97 532.02,43.35 533.50,44.20 C534.98,45.05 537.83,47.03 538.70,47.60" fill="none" stroke="#4096d6" stroke-width="1.2" stroke-linejoin="round"/>
<path d="M333.10,82.50 L335.20,85.20 L333.10,87.90 L331.00,85.20 Z" fill="#000"/>
<path d="M422.00,83.20 L424.10,85.90 L422.00,88.60 L419.90,85.90 Z" fill="#000"/>
<path d="M475.90,81.30 L478.00,84.00 L475.90,86.70 L473.80,84.00 Z" fill="#000"/>
<path d="M499.20,25.70 L501.30,28.40 L499.20,31.10 L497.10,28.40 Z" fill="#000"/>
<path d="M507.40,74.60 L509.50,77.30 L507.40,80.00 L505.30,77.30 Z" fill="#000"/>
<text x="344.80" y="129.9" font-family="Liberation Serif" font-weight="bold" font-size="7.6" fill="#000">CW-SOC(g kg<tspan dy="-2.6" font-size="5">-1</tspan><tspan dy="2.6">)</tspan></text>
<line x1="335.30" y1="137.1" x2="351.70" y2="137.1" stroke="#4096d6" stroke-width="1.4"/>
<text x="353.40" y="139.70" font-family="Liberation Serif" font-weight="bold" font-size="7.7" fill="#000">0.46</text>
<line x1="370.10" y1="137.1" x2="386.50" y2="137.1" stroke="#e0502e" stroke-width="1.4"/>
<text x="388.00" y="139.70" font-family="Liberation Serif" font-weight="bold" font-size="7.7" fill="#000">1.08</text>
<line x1="335.30" y1="147.0" x2="351.70" y2="147.0" stroke="#f0a832" stroke-width="1.4"/>
<text x="353.40" y="149.60" font-family="Liberation Serif" font-weight="bold" font-size="7.7" fill="#000">4.10</text>
<line x1="370.10" y1="147.0" x2="386.50" y2="147.0" stroke="#52ab9c" stroke-width="1.4"/>
<text x="388.00" y="149.60" font-family="Liberation Serif" font-weight="bold" font-size="7.7" fill="#000">5.95</text>
<line x1="335.30" y1="157.0" x2="351.70" y2="157.0" stroke="#8338a8" stroke-width="1.4"/>
<text x="353.40" y="159.60" font-family="Liberation Serif" font-weight="bold" font-size="7.7" fill="#000">8.97</text>
<line x1="370.10" y1="157.0" x2="386.50" y2="157.0" stroke="#f0d890" stroke-width="1.4"/>
<text x="388.00" y="159.60" font-family="Liberation Serif" font-weight="bold" font-size="7.7" fill="#000">17.34</text>
<line x1="335.30" y1="166.9" x2="351.70" y2="166.9" stroke="#30353f" stroke-width="1.4"/>
<text x="353.40" y="169.50" font-family="Liberation Serif" font-weight="bold" font-size="7.7" fill="#000">20.22</text>
<clipPath id="cb194"><rect x="427.6" y="95.8" width="107.60" height="67.20"/></clipPath>
<rect x="427.6" y="95.8" width="107.60" height="67.20" fill="#dcdcdc"/>
<g clip-path="url(#cb194)"><path d="M427.60,157.20 C430.28,156.17 438.85,152.95 443.70,151.00 C448.55,149.05 452.32,147.17 456.70,145.50 C461.08,143.83 463.48,143.37 470.00,141.00 C476.52,138.63 488.27,134.10 495.80,131.30 C503.33,128.50 508.63,126.88 515.20,124.20 C521.77,121.52 531.87,116.70 535.20,115.20" fill="none" stroke="#f0d890" stroke-width="1.15" stroke-linejoin="round"/>
<path d="M427.60,160.40 C430.28,159.53 438.85,156.92 443.70,155.20 C448.55,153.48 452.32,151.60 456.70,150.10 C461.08,148.60 465.85,147.60 470.00,146.20 C474.15,144.80 476.22,143.75 481.60,141.70 C486.98,139.65 495.62,136.38 502.30,133.90 C508.98,131.42 516.22,128.95 521.70,126.80 C527.18,124.65 532.95,121.97 535.20,121.00" fill="none" stroke="#8338a8" stroke-width="1.15" stroke-linejoin="round"/>
<path d="M427.60,146.90 C429.65,146.03 436.13,143.32 439.90,141.70 C443.67,140.08 446.77,138.82 450.20,137.20 C453.63,135.58 457.20,133.52 460.50,132.00 C463.80,130.48 465.18,130.47 470.00,128.10 C474.82,125.73 482.95,120.70 489.40,117.80 C495.85,114.90 501.07,113.28 508.70,110.70 C516.33,108.12 530.78,103.70 535.20,102.30" fill="none" stroke="#30353f" stroke-width="1.15" stroke-linejoin="round"/>
<path d="M427.60,154.60 C429.87,153.95 436.35,152.75 441.20,150.70 C446.05,148.65 451.90,144.78 456.70,142.30 C461.50,139.82 463.92,138.82 470.00,135.80 C476.08,132.78 486.75,127.10 493.20,124.20 C499.65,121.30 503.95,120.33 508.70,118.40 C513.45,116.47 517.28,114.53 521.70,112.60 C526.12,110.67 532.95,107.77 535.20,106.80" fill="none" stroke="#52ab9c" stroke-width="1.15" stroke-linejoin="round"/>
<path d="M427.60,158.50 C430.28,157.53 438.85,154.75 443.70,152.70 C448.55,150.65 452.32,148.47 456.70,146.20 C461.08,143.93 463.92,142.55 470.00,139.10 C476.08,135.65 486.75,128.83 493.20,125.50 C499.65,122.17 503.95,121.47 508.70,119.10 C513.45,116.73 517.28,113.88 521.70,111.30 C526.12,108.72 532.95,104.88 535.20,103.60" fill="none" stroke="#f0a832" stroke-width="1.15" stroke-linejoin="round"/>
<path d="M427.60,151.40 C428.35,151.50 429.83,152.55 432.10,152.00 C434.37,151.45 438.18,149.50 441.20,148.10 C444.22,146.70 446.77,145.10 450.20,143.60 C453.63,142.10 458.50,140.62 461.80,139.10 C465.10,137.58 464.77,137.20 470.00,134.50 C475.23,131.80 486.75,125.80 493.20,122.90 C499.65,120.00 503.95,119.25 508.70,117.10 C513.45,114.95 517.28,112.37 521.70,110.00 C526.12,107.63 532.95,104.08 535.20,102.90" fill="none" stroke="#e0502e" stroke-width="1.15" stroke-linejoin="round"/>
<path d="M427.60,119.70 C428.78,119.38 432.43,118.67 434.70,117.80 C436.97,116.93 438.62,116.12 441.20,114.50 C443.78,112.88 446.55,110.25 450.20,108.10 C453.85,105.95 459.23,103.65 463.10,101.60 C466.97,99.55 471.68,96.77 473.40,95.80" fill="none" stroke="#4096d6" stroke-width="1.15" stroke-linejoin="round"/></g>
<rect x="427.6" y="95.8" width="107.60" height="67.20" fill="none" stroke="#000" stroke-width="1.3"/>
<line x1="427.6" y1="150.0" x2="431.6" y2="150.0" stroke="#000" stroke-width="1.5"/>
<line x1="427.6" y1="126.8" x2="431.6" y2="126.8" stroke="#000" stroke-width="1.5"/>
<line x1="427.6" y1="103.6" x2="431.6" y2="103.6" stroke="#000" stroke-width="1.5"/>
<line x1="427.6" y1="138.4" x2="429.6" y2="138.4" stroke="#000" stroke-width="1.2"/>
<line x1="427.6" y1="115.2" x2="429.6" y2="115.2" stroke="#000" stroke-width="1.2"/>
<line x1="458.6" y1="163.0" x2="458.6" y2="159.0" stroke="#000" stroke-width="1.5"/>
<line x1="524.9" y1="163.0" x2="524.9" y2="159.0" stroke="#000" stroke-width="1.5"/>
<line x1="491.7" y1="163.0" x2="491.7" y2="161.0" stroke="#000" stroke-width="1.2"/>
<text x="422.8" y="152.90" font-family="Liberation Serif" font-weight="bold" font-size="7.8" text-anchor="end" fill="#000">0.08</text>
<text x="422.8" y="129.90" font-family="Liberation Serif" font-weight="bold" font-size="7.8" text-anchor="end" fill="#000">0.12</text>
<text x="422.8" y="107.10" font-family="Liberation Serif" font-weight="bold" font-size="7.8" text-anchor="end" fill="#000">0.16</text>
<text x="457.0" y="174.70" font-family="Liberation Serif" font-weight="bold" font-size="7.8" text-anchor="middle" fill="#000">400</text>
<text x="522.2" y="174.70" font-family="Liberation Serif" font-weight="bold" font-size="7.8" text-anchor="middle" fill="#000">500</text>
</g>
<g transform="translate(269.1,194)">
<rect x="38.0" y="13.2" width="232.20" height="166.50" fill="none" stroke="#000" stroke-width="1.9"/>
<line x1="65.00" y1="179.7" x2="65.00" y2="175.7" stroke="#000" stroke-width="1.7"/>
<line x1="108.20" y1="179.7" x2="108.20" y2="175.7" stroke="#000" stroke-width="1.7"/>
<line x1="151.40" y1="179.7" x2="151.40" y2="175.7" stroke="#000" stroke-width="1.7"/>
<line x1="194.60" y1="179.7" x2="194.60" y2="175.7" stroke="#000" stroke-width="1.7"/>
<line x1="237.80" y1="179.7" x2="237.80" y2="175.7" stroke="#000" stroke-width="1.7"/>
<line x1="51.50" y1="179.7" x2="51.50" y2="177.7" stroke="#000" stroke-width="1.5"/>
<line x1="86.60" y1="179.7" x2="86.60" y2="177.7" stroke="#000" stroke-width="1.5"/>
<line x1="129.80" y1="179.7" x2="129.80" y2="177.7" stroke="#000" stroke-width="1.5"/>
<line x1="173.00" y1="179.7" x2="173.00" y2="177.7" stroke="#000" stroke-width="1.5"/>
<line x1="216.20" y1="179.7" x2="216.20" y2="177.7" stroke="#000" stroke-width="1.5"/>
<line x1="254.00" y1="179.7" x2="254.00" y2="177.7" stroke="#000" stroke-width="1.5"/>
<line x1="38.0" y1="119.30" x2="42.0" y2="119.30" stroke="#000" stroke-width="1.7"/>
<line x1="38.0" y1="58.90" x2="42.0" y2="58.90" stroke="#000" stroke-width="1.7"/>
<line x1="38.0" y1="149.50" x2="40.0" y2="149.50" stroke="#000" stroke-width="1.5"/>
<line x1="38.0" y1="89.10" x2="40.0" y2="89.10" stroke="#000" stroke-width="1.5"/>
<line x1="38.0" y1="28.70" x2="40.0" y2="28.70" stroke="#000" stroke-width="1.5"/>
<text x="35.20" y="191.2" font-family="Liberation Serif" font-weight="bold" font-size="8.5" text-anchor="middle" fill="#000">350</text>
<text x="62.20" y="191.2" font-family="Liberation Serif" font-weight="bold" font-size="8.5" text-anchor="middle" fill="#000">600</text>
<text x="105.40" y="191.2" font-family="Liberation Serif" font-weight="bold" font-size="8.5" text-anchor="middle" fill="#000">1000</text>
<text x="148.60" y="191.2" font-family="Liberation Serif" font-weight="bold" font-size="8.5" text-anchor="middle" fill="#000">1400</text>
<text x="191.80" y="191.2" font-family="Liberation Serif" font-weight="bold" font-size="8.5" text-anchor="middle" fill="#000">1800</text>
<text x="235.00" y="191.2" font-family="Liberation Serif" font-weight="bold" font-size="8.5" text-anchor="middle" fill="#000">2200</text>
<text x="267.40" y="191.2" font-family="Liberation Serif" font-weight="bold" font-size="8.5" text-anchor="middle" fill="#000">2500</text>
<text x="33.3" y="182.70" font-family="Liberation Serif" font-weight="bold" font-size="8.5" text-anchor="end" fill="#000">0.0</text>
<text x="33.3" y="122.30" font-family="Liberation Serif" font-weight="bold" font-size="8.5" text-anchor="end" fill="#000">0.2</text>
<text x="33.3" y="61.90" font-family="Liberation Serif" font-weight="bold" font-size="8.5" text-anchor="end" fill="#000">0.4</text>
<text transform="translate(154,199.3) scale(1,0.72)" x="0" y="0" font-family="Liberation Serif" font-weight="bold" font-size="10" text-anchor="middle" fill="#000">wavelength(nm)</text>
<text transform="translate(18.4,96.0) rotate(-90)" x="0" y="0" font-family="Liberation Serif" font-weight="bold" font-size="10.2" text-anchor="middle" fill="#000">reflectance</text>
<path d="M45.00,25.50 L46.90,27.90 L45.00,30.30 L43.10,27.90 Z" fill="#000"/>
<text x="50.7" y="30.2" font-family="Liberation Serif" font-weight="bold" font-size="8.7" fill="#000">Absorption peaks/ valleys</text>
<text x="261" y="26.5" font-family="Liberation Serif" font-weight="bold" font-size="8.9" text-anchor="middle" fill="#000">(d)</text>
</g>
</svg>
</body></html>
